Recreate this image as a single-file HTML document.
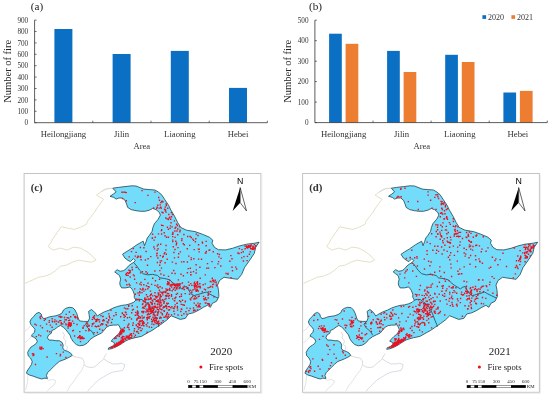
<!DOCTYPE html>
<html><head><meta charset="utf-8"><title>Fire statistics</title>
<style>
html,body{margin:0;padding:0;background:#fff}
body{width:550px;height:397px;overflow:hidden}
svg{display:block}
text{font-family:"Liberation Serif",serif;fill:#222}
.tk{font-size:7.2px;fill:#333}
.cat{font-size:8.7px;fill:#333}
.ax{font-size:8.6px;fill:#333}
.yl{font-size:10.5px;fill:#222}
.pl{font-size:11.2px;fill:#222}
.plb{font-size:10.8px;font-weight:bold;fill:#333}
.lg{font-size:8px;fill:#333}
.n{font-family:"Liberation Sans",sans-serif;font-size:8.8px;fill:#000}
.yr{font-size:11px;fill:#222}
.fs{font-size:8.7px;fill:#222}
.sb{font-size:4.9px;fill:#222}
</style></head><body>
<svg width="550" height="397" viewBox="0 0 550 397">
<rect width="550" height="397" fill="#fff"/>
<g id="chart-a">
<rect x="54.4" y="29.0" width="18" height="93.7" fill="#0b70c3"/>
<rect x="112.6" y="54.0" width="18" height="68.7" fill="#0b70c3"/>
<rect x="170.8" y="50.9" width="18" height="71.8" fill="#0b70c3"/>
<rect x="229.0" y="87.9" width="18" height="34.8" fill="#0b70c3"/>
<path d="M34.6,20.1V122.7H267.4" fill="none" stroke="#333" stroke-width="0.8"/>
<text x="28.2" y="125.3" text-anchor="end" class="tk">0</text>
<text x="28.2" y="113.9" text-anchor="end" class="tk">100</text>
<text x="28.2" y="102.5" text-anchor="end" class="tk">200</text>
<text x="28.2" y="91.1" text-anchor="end" class="tk">300</text>
<text x="28.2" y="79.7" text-anchor="end" class="tk">400</text>
<text x="28.2" y="68.3" text-anchor="end" class="tk">500</text>
<text x="28.2" y="56.9" text-anchor="end" class="tk">600</text>
<text x="28.2" y="45.5" text-anchor="end" class="tk">700</text>
<text x="28.2" y="34.1" text-anchor="end" class="tk">800</text>
<text x="28.2" y="22.7" text-anchor="end" class="tk">900</text>
<path d="M34.6,122.7h2M34.6,111.3h2M34.6,99.9h2M34.6,88.5h2M34.6,77.1h2M34.6,65.7h2M34.6,54.3h2M34.6,42.9h2M34.6,31.5h2M34.6,20.1h2M92.8,122.7v-2M151.0,122.7v-2M209.2,122.7v-2M267.4,122.7v-2" stroke="#333" stroke-width="0.7" fill="none"/>
<text x="63.4" y="136.7" text-anchor="middle" class="cat">Heilongjiang</text>
<text x="121.6" y="136.7" text-anchor="middle" class="cat">Jilin</text>
<text x="179.8" y="136.7" text-anchor="middle" class="cat">Liaoning</text>
<text x="238.0" y="136.7" text-anchor="middle" class="cat">Hebei</text>
<text x="141.8" y="149.4" text-anchor="middle" class="ax">Area</text>
<text transform="translate(11.3,71.3) rotate(-90)" text-anchor="middle" class="yl">Number of fire</text>
<text x="30.7" y="10" class="pl">(a)</text>
</g>
<g id="chart-b">
<rect x="329.1" y="33.7" width="12.7" height="88.9" fill="#0b70c3"/>
<rect x="345.6" y="43.8" width="12.7" height="78.8" fill="#ed7d31"/>
<rect x="387.1" y="50.9" width="12.7" height="71.7" fill="#0b70c3"/>
<rect x="403.6" y="72.0" width="12.7" height="50.6" fill="#ed7d31"/>
<rect x="445.2" y="54.8" width="12.7" height="67.8" fill="#0b70c3"/>
<rect x="461.8" y="62.0" width="12.7" height="60.6" fill="#ed7d31"/>
<rect x="503.4" y="92.5" width="12.7" height="30.1" fill="#0b70c3"/>
<rect x="519.9" y="90.9" width="12.7" height="31.7" fill="#ed7d31"/>
<path d="M314.9,20.2V122.6H547.3" fill="none" stroke="#333" stroke-width="0.8"/>
<text x="308.5" y="125.2" text-anchor="end" class="tk">0</text>
<text x="308.5" y="104.7" text-anchor="end" class="tk">100</text>
<text x="308.5" y="84.2" text-anchor="end" class="tk">200</text>
<text x="308.5" y="63.8" text-anchor="end" class="tk">300</text>
<text x="308.5" y="43.3" text-anchor="end" class="tk">400</text>
<text x="308.5" y="22.8" text-anchor="end" class="tk">500</text>
<path d="M314.9,122.6h2M314.9,102.1h2M314.9,81.6h2M314.9,61.2h2M314.9,40.7h2M314.9,20.2h2M373.0,122.6v-2M431.1,122.6v-2M489.2,122.6v-2M547.3,122.6v-2" stroke="#333" stroke-width="0.7" fill="none"/>
<text x="343.6" y="136.7" text-anchor="middle" class="cat">Heilongjiang</text>
<text x="401.6" y="136.7" text-anchor="middle" class="cat">Jilin</text>
<text x="459.8" y="136.7" text-anchor="middle" class="cat">Liaoning</text>
<text x="517.9" y="136.7" text-anchor="middle" class="cat">Hebei</text>
<text x="421.8" y="149.4" text-anchor="middle" class="ax">Area</text>
<text transform="translate(291.3,71.3) rotate(-90)" text-anchor="middle" class="yl">Number of fire</text>
<text x="309" y="10" class="pl">(b)</text>
<rect x="482.4" y="15.2" width="3.7" height="3.7" fill="#0b70c3"/>
<text x="488" y="19.8" class="lg">2020</text>
<rect x="511.4" y="15.2" width="3.7" height="3.7" fill="#ed7d31"/>
<text x="517" y="19.8" class="lg">2021</text>
</g>
<g id="map-c">
<rect x="24.1" y="173.5" width="236.8" height="218.8" fill="#fff" stroke="#c4c4c4" stroke-width="1"/>
<path d="M25.1,393.3H261.9V174.5" fill="none" stroke="#ececec" stroke-width="1"/>
<path d="M112.7,188.1 106.6,189.1 100.6,192.1 96.6,195.1 99.6,197.1 103.6,199.1 100.6,203.2 97.6,207.2 94.5,212.2 90.5,217.3 87.5,221.3 86.5,224.3 80.4,227.3 74.4,229.4 68.3,228.3 61.3,226.7 57.3,232.4 53.2,238.4 50.2,243.5 48.2,246.5 53.2,250.1 60.3,248.1 67.3,250.1 73.4,247.1 80.4,248.1 87.5,252.1 92.5,256.1 96.1,260.1 91.5,262.2 84.5,261.2 78.4,260.1 72.4,262.2 66.3,265.2 60.3,266.2 56.3,270.2 50.2,274.2 44.2,276.3 38.1,277.3 32.1,280.3 25.0,283.3" fill="none" stroke="#ddd8b8" stroke-width="0.8"/>
<path d="M100.6,192.1 104.0,189.5 108.0,188.3 112.6,188.5" fill="none" stroke="#d8d8d8" stroke-width="0.8"/>
<path d="M62.5,332.0 64.5,335.0 63.5,338.0 66.0,341.0 65.0,344.5 67.5,347.0 66.5,350.5" fill="none" stroke="#d4d4d4" stroke-width="0.8"/>
<path d="M72.4,355.9 77.5,357.4 81.8,358.1 84.0,361.0 84.0,364.6 86.9,366.8 91.3,367.5 94.9,366.8 97.8,363.9 101.5,361.0 103.6,358.8 105.1,355.9 106.5,353.7" fill="none" stroke="#d2d2d2" stroke-width="0.8"/>
<path d="M103.6,358.8 108.0,361.7 112.4,363.9 117.5,363.9 121.1,363.2 124.7,364.6 124.0,367.5 122.5,370.5 118.2,371.2 113.8,371.9 109.5,373.4 105.8,375.5 102.2,377.7 98.5,379.9 95.6,382.8 92.7,385.7 89.8,388.6 87.6,391.5" fill="none" stroke="#ccd3e0" stroke-width="0.8"/>
<path d="M24.7,331.3 28.5,328.5 30.4,325.7" fill="none" stroke="#dcdcdc" stroke-width="0.8"/>
<path d="M24.7,342.6 27.5,340.8 30.4,337.9 31.5,336.2" fill="none" stroke="#dcdcdc" stroke-width="0.8"/>
<path d="M28.0,375.0 27.5,382.3 25.7,389.8" fill="none" stroke="#dcdcdc" stroke-width="0.8"/>
<path d="M46.5,378.5 48.3,380.4 53.0,379.4 56.0,381.0 54.0,385.0 50.0,388.0 47.0,391.5" fill="none" stroke="#dcdcdc" stroke-width="0.8"/>
<path d="M84.0,364.6 82.0,370.0 78.0,375.0 74.0,381.0 70.0,386.0 67.0,391.5" fill="none" stroke="#dcdcdc" stroke-width="0.8"/>
<path d="M112.8,188.2 118.3,187.4 125.0,186.6 131.6,185.8 136.0,186.0 140.5,187.8 143.8,189.1 149.3,189.6 154.9,190.0 158.2,191.9 161.5,194.6 164.5,199.2 168.6,205.3 171.0,210.3 174.6,216.3 177.6,222.4 180.7,227.4 186.5,230.2 195.0,231.6 202.3,234.2 209.4,237.2 212.8,240.2 212.0,243.2 214.4,247.3 218.4,249.7 225.5,249.9 232.5,248.3 239.6,245.9 246.6,244.2 254.7,243.2 259.1,242.2 255.7,247.3 254.3,253.3 249.6,260.4 244.6,267.4 241.6,274.5 237.6,279.3 230.5,278.3 224.0,277.3 219.5,280.5 217.5,285.2 218.5,290.2 218.9,296.3 216.5,301.3 212.4,303.3 210.4,307.3 207.4,305.3 203.4,307.3 198.3,310.4 193.3,312.8 188.3,314.0 185.3,318.4 180.2,319.4 174.2,317.0 171.2,315.8 167.1,319.8 162.1,323.5 157.1,327.0 152.0,330.5 148.4,332.4 141.4,336.4 135.0,337.7 131.4,338.7 128.3,339.7 125.3,341.2 122.3,343.2 119.3,345.2 115.2,347.3 111.2,348.8 108.2,349.3 108.7,347.8 112.2,346.3 114.7,344.2 113.7,342.2 111.2,341.2 113.2,338.7 115.2,336.7 117.8,334.7 119.8,332.1 120.8,329.6 119.8,327.1 118.3,324.6 116.3,325.1 113.2,325.1 109.7,325.6 106.7,327.1 104.2,330.1 101.6,333.1 98.1,334.7 94.1,336.7 90.0,339.6 88.0,342.2 87.1,343.2 83.7,345.2 79.7,345.8 76.3,344.6 73.4,341.8 71.2,338.4 70.0,335.0 67.8,332.2 65.5,329.3 63.2,327.1 60.4,325.4 57.6,327.1 54.7,329.3 51.9,330.5 51.3,333.3 48.5,335.0 47.4,337.8 49.1,340.1 52.5,340.1 55.9,340.7 59.3,340.7 62.1,342.4 63.2,345.2 62.7,348.0 64.4,350.3 67.8,351.4 70.6,353.1 72.3,355.4 69.5,357.1 66.1,358.8 62.7,360.2 59.4,361.4 56.0,364.3 53.2,367.1 50.3,369.9 47.5,372.8 46.4,375.6 47.5,378.4 44.1,378.2 41.8,379.0 37.9,377.9 33.3,376.2 29.4,375.0 26.5,373.3 27.1,371.1 29.4,367.7 31.6,364.3 32.2,361.4 30.5,358.0 28.2,355.8 27.7,352.4 29.4,349.2 31.1,347.0 33.9,345.2 36.2,343.5 37.3,341.3 36.2,339.0 33.9,337.3 31.6,336.2 32.2,334.5 34.5,332.2 35.0,329.4 33.3,327.1 31.1,324.8 29.9,322.0 31.1,319.2 33.9,316.3 36.2,313.5 39.0,312.4 41.3,314.1 41.8,316.3 43.5,318.6 46.4,318.0 49.2,316.9 52.6,316.3 56.0,315.8 59.4,314.6 62.2,312.9 63.4,310.1 65.7,308.4 69.1,307.3 72.7,307.7 75.0,310.0 76.8,313.6 78.2,318.2 79.5,320.9 83.6,321.4 88.2,321.4 89.5,318.2 89.1,314.5 88.6,311.4 91.4,309.5 93.6,311.2 95.2,312.8 97.3,316.0 100.5,313.9 104.7,311.7 108.9,310.2 113.2,308.0 117.4,306.5 121.6,305.4 125.9,304.9 130.1,303.8 133.8,302.2 135.9,300.1 134.3,297.5 134.3,294.3 132.7,290.1 130.1,286.9 125.9,287.9 121.6,287.9 120.0,285.0 119.8,282.7 120.7,279.1 119.5,275.5 117.1,273.7 114.7,271.9 117.1,269.7 120.1,271.3 123.7,270.6 126.1,268.8 128.6,265.8 131.0,264.0 134.0,262.2 135.2,260.4 133.4,258.6 130.4,261.6 128.0,260.4 124.9,258.0 122.5,254.3 126.1,251.9 131.0,248.9 137.0,244.7 143.2,241.2 144.5,245.7 146.1,241.6 147.3,238.0 149.1,235.8 152.1,231.3 152.9,227.5 154.4,223.7 158.2,219.2 160.4,215.1 159.3,212.4 156.0,209.6 152.7,208.5 149.3,210.2 144.9,211.3 140.5,211.3 136.0,210.7 131.1,209.6 127.7,207.4 126.6,204.1 125.0,200.2 122.2,198.0 118.9,198.0 116.1,199.1 113.9,197.4 110.0,196.3 113.3,194.1 116.1,191.9Z" fill="#73dcfb" stroke="#1d4450" stroke-width="0.8" stroke-linejoin="round"/>
<path d="M134.0,262.8 137.0,266.4 139.4,270.0 143.1,273.7 147.9,274.9 152.7,274.3 157.6,275.5 160.0,277.9 164.8,278.5 169.8,279.9 172.9,282.9 175.9,285.3 178.9,287.1 181.9,288.9 184.3,287.1 186.8,286.5 188.6,290.1 191.0,293.8 194.0,295.6 198.3,294.4 202.5,293.2 206.1,292.0 209.1,293.8 212.8,295.6 216.4,297.4 218.2,298.0" fill="none" stroke="#1d4450" stroke-width="0.8"/>
<path d="M135.9,300.1 139.0,299.3 141.9,299.6 144.9,302.0 148.0,303.9 150.4,306.9 152.8,311.1 154.6,315.3 156.4,320.2 158.2,324.4 158.8,326.8" fill="none" stroke="#1d4450" stroke-width="0.8"/>
<path d="M88.2,321.4 85.5,324.1 87.3,327.3 90.0,330.0 92.3,331.8 94.1,335.2" fill="none" stroke="#1d4450" stroke-width="0.8"/>
<path d="M150.1,255.9h1.4v1.4h-1.4zM159.6,261.9h1.4v1.4h-1.4zM173.8,257.2h1.4v1.4h-1.4zM74.0,316.3h1.4v1.4h-1.4zM194.7,241.0h1.4v1.4h-1.4zM202.8,295.7h1.4v1.4h-1.4zM98.8,319.2h1.4v1.4h-1.4zM160.2,273.3h1.4v1.4h-1.4zM188.2,309.9h1.4v1.4h-1.4zM115.5,314.1h1.4v1.4h-1.4zM138.3,298.8h1.4v1.4h-1.4zM145.4,304.3h1.4v1.4h-1.4zM133.9,278.6h1.4v1.4h-1.4zM187.0,235.8h1.4v1.4h-1.4zM246.7,255.7h1.4v1.4h-1.4zM137.1,311.1h1.4v1.4h-1.4zM199.5,277.5h1.4v1.4h-1.4zM208.4,249.5h1.4v1.4h-1.4zM60.2,344.4h1.4v1.4h-1.4zM178.0,253.0h1.4v1.4h-1.4zM235.0,266.4h1.4v1.4h-1.4zM142.2,287.8h1.4v1.4h-1.4zM135.7,324.9h1.4v1.4h-1.4zM204.6,283.2h1.4v1.4h-1.4zM143.1,284.0h1.4v1.4h-1.4zM62.1,323.2h1.4v1.4h-1.4zM59.5,355.2h1.4v1.4h-1.4zM145.4,250.8h1.4v1.4h-1.4zM99.9,324.3h1.4v1.4h-1.4zM154.2,270.3h1.4v1.4h-1.4zM39.8,317.8h1.4v1.4h-1.4zM225.4,272.8h1.4v1.4h-1.4zM201.6,241.4h1.4v1.4h-1.4zM189.4,307.8h1.4v1.4h-1.4zM197.3,234.8h1.4v1.4h-1.4zM181.1,239.8h1.4v1.4h-1.4zM135.9,282.2h1.4v1.4h-1.4zM161.5,287.3h1.4v1.4h-1.4zM229.2,260.5h1.4v1.4h-1.4zM193.5,309.2h1.4v1.4h-1.4zM147.3,282.5h1.4v1.4h-1.4zM171.2,305.9h1.4v1.4h-1.4zM142.5,288.4h1.4v1.4h-1.4zM41.7,327.1h1.4v1.4h-1.4zM140.4,259.1h1.4v1.4h-1.4zM168.8,309.1h1.4v1.4h-1.4zM197.9,244.1h1.4v1.4h-1.4zM133.6,275.2h1.4v1.4h-1.4zM215.6,283.4h1.4v1.4h-1.4zM139.9,272.2h1.4v1.4h-1.4zM153.1,323.8h1.4v1.4h-1.4zM195.4,272.3h1.4v1.4h-1.4zM175.1,240.6h1.4v1.4h-1.4zM135.4,251.7h1.4v1.4h-1.4zM147.4,258.0h1.4v1.4h-1.4zM142.6,306.6h1.4v1.4h-1.4zM135.6,298.4h1.4v1.4h-1.4zM146.9,316.6h1.4v1.4h-1.4zM192.9,310.0h1.4v1.4h-1.4zM35.6,335.9h1.4v1.4h-1.4zM160.9,260.2h1.4v1.4h-1.4zM230.3,276.9h1.4v1.4h-1.4zM189.0,244.7h1.4v1.4h-1.4zM141.4,315.2h1.4v1.4h-1.4zM123.5,316.7h1.4v1.4h-1.4zM250.1,245.5h1.4v1.4h-1.4zM201.8,242.3h1.4v1.4h-1.4zM241.3,248.9h1.4v1.4h-1.4zM121.2,341.5h1.4v1.4h-1.4zM86.9,323.3h1.4v1.4h-1.4zM246.4,259.9h1.4v1.4h-1.4zM125.6,280.4h1.4v1.4h-1.4zM204.7,302.3h1.4v1.4h-1.4zM72.0,330.2h1.4v1.4h-1.4zM153.9,248.2h1.4v1.4h-1.4zM190.1,271.5h1.4v1.4h-1.4zM157.2,257.3h1.4v1.4h-1.4zM79.8,340.9h1.4v1.4h-1.4zM241.0,257.2h1.4v1.4h-1.4zM169.4,227.5h1.4v1.4h-1.4zM176.7,224.8h1.4v1.4h-1.4zM102.0,315.9h1.4v1.4h-1.4zM209.9,290.9h1.4v1.4h-1.4zM153.3,308.4h1.4v1.4h-1.4zM64.2,319.2h1.4v1.4h-1.4zM246.3,245.7h1.4v1.4h-1.4zM83.5,324.9h1.4v1.4h-1.4zM164.7,291.3h1.4v1.4h-1.4zM160.8,267.4h1.4v1.4h-1.4zM129.5,269.9h1.4v1.4h-1.4zM169.2,279.7h1.4v1.4h-1.4zM128.4,283.6h1.4v1.4h-1.4zM143.2,247.0h1.4v1.4h-1.4zM148.9,307.9h1.4v1.4h-1.4zM171.7,261.4h1.4v1.4h-1.4zM159.6,254.9h1.4v1.4h-1.4zM161.6,313.1h1.4v1.4h-1.4zM126.2,284.1h1.4v1.4h-1.4zM162.3,224.9h1.4v1.4h-1.4zM206.8,262.9h1.4v1.4h-1.4zM156.2,253.0h1.4v1.4h-1.4zM195.6,233.4h1.4v1.4h-1.4zM40.0,335.2h1.4v1.4h-1.4zM166.7,283.0h1.4v1.4h-1.4zM133.8,328.1h1.4v1.4h-1.4zM190.6,236.8h1.4v1.4h-1.4zM127.0,337.1h1.4v1.4h-1.4zM198.5,248.5h1.4v1.4h-1.4zM186.2,313.4h1.4v1.4h-1.4zM127.3,324.8h1.4v1.4h-1.4zM240.7,251.9h1.4v1.4h-1.4zM186.2,307.4h1.4v1.4h-1.4zM162.6,255.5h1.4v1.4h-1.4zM172.1,240.9h1.4v1.4h-1.4zM49.1,331.1h1.4v1.4h-1.4zM91.7,323.1h1.4v1.4h-1.4zM204.7,252.3h1.4v1.4h-1.4zM187.8,281.4h1.4v1.4h-1.4zM46.4,356.3h1.4v1.4h-1.4zM204.8,296.9h1.4v1.4h-1.4zM96.0,320.7h1.4v1.4h-1.4zM195.6,269.2h1.4v1.4h-1.4zM141.9,307.1h1.4v1.4h-1.4zM235.9,268.3h1.4v1.4h-1.4zM199.2,266.6h1.4v1.4h-1.4zM174.4,272.8h1.4v1.4h-1.4zM123.2,335.9h1.4v1.4h-1.4zM171.7,233.7h1.4v1.4h-1.4zM131.5,305.0h1.4v1.4h-1.4zM68.7,311.3h1.4v1.4h-1.4zM151.2,323.4h1.4v1.4h-1.4zM146.8,264.5h1.4v1.4h-1.4zM74.9,317.1h1.4v1.4h-1.4zM123.5,319.7h1.4v1.4h-1.4zM211.3,260.9h1.4v1.4h-1.4zM134.7,293.6h1.4v1.4h-1.4zM248.7,253.5h1.4v1.4h-1.4zM218.7,253.8h1.4v1.4h-1.4zM192.9,239.7h1.4v1.4h-1.4zM125.3,308.0h1.4v1.4h-1.4zM205.5,252.2h1.4v1.4h-1.4zM65.2,356.8h1.4v1.4h-1.4zM186.2,287.6h1.4v1.4h-1.4zM154.5,236.5h1.4v1.4h-1.4zM141.4,289.3h1.4v1.4h-1.4zM134.4,293.7h1.4v1.4h-1.4zM220.3,257.7h1.4v1.4h-1.4zM173.4,307.8h1.4v1.4h-1.4zM167.1,316.7h1.4v1.4h-1.4zM144.2,278.7h1.4v1.4h-1.4zM34.3,323.6h1.4v1.4h-1.4zM217.3,263.2h1.4v1.4h-1.4zM209.1,249.2h1.4v1.4h-1.4zM35.7,324.4h1.4v1.4h-1.4zM168.7,306.0h1.4v1.4h-1.4zM164.0,316.4h1.4v1.4h-1.4zM180.3,273.6h1.4v1.4h-1.4zM177.7,256.5h1.4v1.4h-1.4zM207.8,293.6h1.4v1.4h-1.4zM213.3,296.1h1.4v1.4h-1.4zM175.1,226.5h1.4v1.4h-1.4zM82.4,326.5h1.4v1.4h-1.4zM38.1,334.3h1.4v1.4h-1.4zM190.0,274.1h1.4v1.4h-1.4zM98.2,325.7h1.4v1.4h-1.4zM159.1,269.9h1.4v1.4h-1.4zM110.3,309.5h1.4v1.4h-1.4zM207.4,294.5h1.4v1.4h-1.4zM231.3,258.0h1.4v1.4h-1.4zM237.2,252.3h1.4v1.4h-1.4zM72.7,329.7h1.4v1.4h-1.4zM182.7,275.0h1.4v1.4h-1.4zM85.2,329.9h1.4v1.4h-1.4zM136.4,298.8h1.4v1.4h-1.4zM188.1,255.4h1.4v1.4h-1.4zM164.2,251.9h1.4v1.4h-1.4zM138.6,294.6h1.4v1.4h-1.4zM206.2,267.5h1.4v1.4h-1.4zM227.2,273.7h1.4v1.4h-1.4zM164.4,262.0h1.4v1.4h-1.4zM156.6,308.7h1.4v1.4h-1.4zM180.9,261.2h1.4v1.4h-1.4zM182.6,243.1h1.4v1.4h-1.4zM59.5,315.8h1.4v1.4h-1.4zM34.8,363.8h1.4v1.4h-1.4zM130.8,250.9h1.4v1.4h-1.4zM136.6,306.3h1.4v1.4h-1.4zM191.1,291.9h1.4v1.4h-1.4zM139.7,246.8h1.4v1.4h-1.4zM39.8,325.2h1.4v1.4h-1.4zM212.6,251.1h1.4v1.4h-1.4zM160.9,224.5h1.4v1.4h-1.4zM195.4,264.0h1.4v1.4h-1.4zM218.2,256.2h1.4v1.4h-1.4zM129.3,284.7h1.4v1.4h-1.4zM190.5,258.9h1.4v1.4h-1.4zM140.6,284.2h1.4v1.4h-1.4zM48.7,319.9h1.4v1.4h-1.4zM159.4,286.1h1.4v1.4h-1.4zM140.3,281.8h1.4v1.4h-1.4zM242.7,260.3h1.4v1.4h-1.4zM205.6,250.7h1.4v1.4h-1.4zM123.8,307.2h1.4v1.4h-1.4zM174.4,236.7h1.4v1.4h-1.4zM134.0,288.2h1.4v1.4h-1.4zM158.0,310.6h1.4v1.4h-1.4zM190.3,274.2h1.4v1.4h-1.4zM167.8,275.7h1.4v1.4h-1.4zM144.7,259.3h1.4v1.4h-1.4zM154.8,280.0h1.4v1.4h-1.4zM127.9,326.9h1.4v1.4h-1.4zM182.2,304.0h1.4v1.4h-1.4zM215.8,285.1h1.4v1.4h-1.4zM55.8,352.9h1.4v1.4h-1.4zM203.0,298.2h1.4v1.4h-1.4zM122.9,336.1h1.4v1.4h-1.4zM166.5,258.6h1.4v1.4h-1.4zM132.1,324.5h1.4v1.4h-1.4zM141.7,270.9h1.4v1.4h-1.4zM159.2,297.3h1.4v1.4h-1.4zM238.7,247.9h1.4v1.4h-1.4zM204.8,289.1h1.4v1.4h-1.4zM145.8,285.0h1.4v1.4h-1.4zM163.6,253.1h1.4v1.4h-1.4zM182.5,286.5h1.4v1.4h-1.4zM155.9,295.9h1.4v1.4h-1.4zM128.0,305.6h1.4v1.4h-1.4zM231.3,266.5h1.4v1.4h-1.4zM165.6,253.5h1.4v1.4h-1.4zM121.4,336.9h1.4v1.4h-1.4zM161.7,314.0h1.4v1.4h-1.4zM141.3,291.9h1.4v1.4h-1.4zM175.6,287.7h1.4v1.4h-1.4zM159.0,264.6h1.4v1.4h-1.4zM100.9,323.0h1.4v1.4h-1.4zM127.9,304.8h1.4v1.4h-1.4zM156.0,207.8h1.4v1.4h-1.4zM216.9,253.1h1.4v1.4h-1.4zM179.7,251.2h1.4v1.4h-1.4zM193.1,258.1h1.4v1.4h-1.4zM189.4,235.8h1.4v1.4h-1.4zM162.0,256.3h1.4v1.4h-1.4zM166.7,226.5h1.4v1.4h-1.4zM151.6,237.6h1.4v1.4h-1.4zM115.2,311.9h1.4v1.4h-1.4zM156.1,255.1h1.4v1.4h-1.4zM55.6,323.3h1.4v1.4h-1.4zM183.2,313.1h1.4v1.4h-1.4zM121.6,312.2h1.4v1.4h-1.4zM173.7,220.2h1.4v1.4h-1.4zM158.0,323.3h1.4v1.4h-1.4zM126.8,317.1h1.4v1.4h-1.4zM205.5,240.7h1.4v1.4h-1.4zM186.7,261.3h1.4v1.4h-1.4zM171.3,272.6h1.4v1.4h-1.4zM187.5,267.9h1.4v1.4h-1.4zM151.9,233.6h1.4v1.4h-1.4zM58.0,321.4h1.4v1.4h-1.4zM145.3,271.1h1.4v1.4h-1.4zM156.4,249.7h1.4v1.4h-1.4zM65.5,313.7h1.4v1.4h-1.4zM132.8,332.8h1.4v1.4h-1.4zM71.9,320.4h1.4v1.4h-1.4zM134.6,255.4h1.4v1.4h-1.4zM45.9,323.4h1.4v1.4h-1.4zM156.5,206.6h1.4v1.4h-1.4zM177.0,234.0h1.4v1.4h-1.4zM197.7,248.4h1.4v1.4h-1.4zM157.2,306.3h1.4v1.4h-1.4zM70.5,324.5h1.4v1.4h-1.4zM207.9,267.4h1.4v1.4h-1.4zM179.0,284.5h1.4v1.4h-1.4zM156.4,252.5h1.4v1.4h-1.4zM40.3,315.6h1.4v1.4h-1.4zM175.8,243.2h1.4v1.4h-1.4zM70.0,316.0h1.4v1.4h-1.4zM156.7,261.8h1.4v1.4h-1.4zM152.9,207.3h1.4v1.4h-1.4zM139.3,292.1h1.4v1.4h-1.4zM158.5,207.4h1.4v1.4h-1.4zM162.2,201.1h1.4v1.4h-1.4zM217.9,260.9h1.4v1.4h-1.4zM189.6,267.5h1.4v1.4h-1.4zM198.4,251.2h1.4v1.4h-1.4zM165.7,204.8h1.4v1.4h-1.4zM160.5,207.5h1.4v1.4h-1.4zM93.4,317.6h1.4v1.4h-1.4zM59.8,353.8h1.4v1.4h-1.4zM183.2,261.1h1.4v1.4h-1.4zM159.5,260.2h1.4v1.4h-1.4zM181.2,238.0h1.4v1.4h-1.4zM157.7,287.1h1.4v1.4h-1.4zM172.5,307.5h1.4v1.4h-1.4zM183.6,244.1h1.4v1.4h-1.4zM197.0,283.4h1.4v1.4h-1.4zM227.3,272.7h1.4v1.4h-1.4zM157.6,243.8h1.4v1.4h-1.4zM97.6,325.2h1.4v1.4h-1.4zM242.6,251.1h1.4v1.4h-1.4zM161.0,201.1h1.4v1.4h-1.4zM175.9,223.5h1.4v1.4h-1.4zM101.8,329.5h1.4v1.4h-1.4zM120.0,316.0h1.4v1.4h-1.4zM164.3,235.0h1.4v1.4h-1.4zM193.5,248.9h1.4v1.4h-1.4zM214.2,266.9h1.4v1.4h-1.4zM162.2,292.2h1.4v1.4h-1.4zM165.2,249.2h1.4v1.4h-1.4zM85.9,322.3h1.4v1.4h-1.4zM205.4,245.1h1.4v1.4h-1.4zM79.1,330.9h1.4v1.4h-1.4zM243.2,255.9h1.4v1.4h-1.4zM67.4,327.3h1.4v1.4h-1.4zM173.2,251.8h1.4v1.4h-1.4zM132.6,247.9h1.4v1.4h-1.4zM51.4,326.5h1.4v1.4h-1.4zM175.3,262.8h1.4v1.4h-1.4zM62.6,351.4h1.4v1.4h-1.4zM88.1,330.0h1.4v1.4h-1.4zM63.8,316.8h1.4v1.4h-1.4zM230.2,254.9h1.4v1.4h-1.4zM80.6,337.8h1.4v1.4h-1.4zM196.7,281.8h1.4v1.4h-1.4zM238.3,252.8h1.4v1.4h-1.4zM195.1,238.1h1.4v1.4h-1.4zM185.2,311.1h1.4v1.4h-1.4zM153.0,318.2h1.4v1.4h-1.4zM186.6,248.0h1.4v1.4h-1.4zM153.1,246.3h1.4v1.4h-1.4zM197.9,258.4h1.4v1.4h-1.4zM167.8,315.7h1.4v1.4h-1.4zM171.5,290.0h1.4v1.4h-1.4zM167.7,236.6h1.4v1.4h-1.4zM135.6,324.2h1.4v1.4h-1.4zM148.4,286.3h1.4v1.4h-1.4zM132.6,308.7h1.4v1.4h-1.4zM146.7,272.6h1.4v1.4h-1.4zM186.7,272.0h1.4v1.4h-1.4zM61.1,316.3h1.4v1.4h-1.4zM158.0,196.8h1.4v1.4h-1.4zM192.1,238.4h1.4v1.4h-1.4zM124.1,337.8h1.4v1.4h-1.4zM128.5,256.2h1.4v1.4h-1.4zM190.6,257.2h1.4v1.4h-1.4zM200.8,258.5h1.4v1.4h-1.4zM163.2,274.5h1.4v1.4h-1.4zM220.1,265.3h1.4v1.4h-1.4zM231.8,270.1h1.4v1.4h-1.4zM46.8,330.3h1.4v1.4h-1.4zM39.2,316.4h1.4v1.4h-1.4zM164.6,210.2h1.4v1.4h-1.4zM158.8,199.6h1.4v1.4h-1.4zM147.2,194.7h1.4v1.4h-1.4zM170.8,216.1h1.4v1.4h-1.4zM164.9,209.3h1.4v1.4h-1.4zM167.1,207.6h1.4v1.4h-1.4zM170.0,218.5h1.4v1.4h-1.4zM176.3,230.3h1.4v1.4h-1.4zM160.0,206.5h1.4v1.4h-1.4zM165.4,211.4h1.4v1.4h-1.4zM174.2,230.3h1.4v1.4h-1.4zM169.0,216.5h1.4v1.4h-1.4zM170.7,211.9h1.4v1.4h-1.4zM167.7,218.8h1.4v1.4h-1.4zM162.3,212.1h1.4v1.4h-1.4zM169.7,225.2h1.4v1.4h-1.4zM179.2,231.0h1.4v1.4h-1.4zM163.9,208.5h1.4v1.4h-1.4zM170.4,222.0h1.4v1.4h-1.4zM166.4,218.2h1.4v1.4h-1.4zM168.4,217.4h1.4v1.4h-1.4zM161.4,200.5h1.4v1.4h-1.4zM154.3,191.4h1.4v1.4h-1.4zM159.5,204.2h1.4v1.4h-1.4zM165.5,203.3h1.4v1.4h-1.4zM164.6,206.4h1.4v1.4h-1.4zM165.1,217.3h1.4v1.4h-1.4zM171.8,213.8h1.4v1.4h-1.4zM179.4,229.6h1.4v1.4h-1.4zM157.1,204.5h1.4v1.4h-1.4zM161.4,211.6h1.4v1.4h-1.4zM160.1,201.9h1.4v1.4h-1.4zM177.0,228.3h1.4v1.4h-1.4zM178.9,226.2h1.4v1.4h-1.4zM168.1,213.8h1.4v1.4h-1.4zM175.9,242.2h1.4v1.4h-1.4zM172.2,231.8h1.4v1.4h-1.4zM161.0,229.1h1.4v1.4h-1.4zM174.4,227.5h1.4v1.4h-1.4zM165.8,236.6h1.4v1.4h-1.4zM163.5,232.1h1.4v1.4h-1.4zM167.7,228.6h1.4v1.4h-1.4zM165.4,244.8h1.4v1.4h-1.4zM160.0,243.6h1.4v1.4h-1.4zM174.3,248.8h1.4v1.4h-1.4zM157.4,248.0h1.4v1.4h-1.4zM172.6,246.0h1.4v1.4h-1.4zM172.2,233.3h1.4v1.4h-1.4zM172.0,235.9h1.4v1.4h-1.4zM160.7,229.9h1.4v1.4h-1.4zM160.9,233.3h1.4v1.4h-1.4zM151.7,237.2h1.4v1.4h-1.4zM153.4,239.4h1.4v1.4h-1.4zM175.6,244.2h1.4v1.4h-1.4zM177.3,246.9h1.4v1.4h-1.4zM183.2,233.8h1.4v1.4h-1.4zM157.8,233.2h1.4v1.4h-1.4zM156.6,245.2h1.4v1.4h-1.4zM172.0,239.4h1.4v1.4h-1.4zM171.4,226.2h1.4v1.4h-1.4zM247.2,246.2h1.4v1.4h-1.4zM250.6,248.1h1.4v1.4h-1.4zM255.1,245.1h1.4v1.4h-1.4zM249.5,251.2h1.4v1.4h-1.4zM254.0,247.9h1.4v1.4h-1.4zM252.4,246.7h1.4v1.4h-1.4zM254.4,246.4h1.4v1.4h-1.4zM252.1,247.6h1.4v1.4h-1.4zM245.9,246.7h1.4v1.4h-1.4zM248.9,245.3h1.4v1.4h-1.4zM249.8,245.1h1.4v1.4h-1.4zM253.2,248.3h1.4v1.4h-1.4zM252.7,248.6h1.4v1.4h-1.4zM250.4,244.2h1.4v1.4h-1.4zM247.8,246.6h1.4v1.4h-1.4zM247.0,246.3h1.4v1.4h-1.4zM247.6,245.6h1.4v1.4h-1.4zM245.7,245.3h1.4v1.4h-1.4zM244.4,248.1h1.4v1.4h-1.4zM249.9,247.8h1.4v1.4h-1.4zM252.2,246.4h1.4v1.4h-1.4zM253.7,243.9h1.4v1.4h-1.4zM246.5,246.4h1.4v1.4h-1.4zM252.0,248.6h1.4v1.4h-1.4zM246.9,246.1h1.4v1.4h-1.4zM246.4,246.5h1.4v1.4h-1.4zM244.3,245.4h1.4v1.4h-1.4zM246.9,247.3h1.4v1.4h-1.4zM246.5,247.1h1.4v1.4h-1.4zM250.7,247.9h1.4v1.4h-1.4zM252.3,245.4h1.4v1.4h-1.4zM249.4,246.5h1.4v1.4h-1.4zM253.2,246.4h1.4v1.4h-1.4zM250.5,244.3h1.4v1.4h-1.4zM247.9,245.1h1.4v1.4h-1.4zM249.0,245.5h1.4v1.4h-1.4zM188.8,293.5h1.4v1.4h-1.4zM175.6,293.7h1.4v1.4h-1.4zM180.0,301.0h1.4v1.4h-1.4zM204.4,298.3h1.4v1.4h-1.4zM190.0,299.2h1.4v1.4h-1.4zM195.2,285.5h1.4v1.4h-1.4zM198.6,295.4h1.4v1.4h-1.4zM158.8,278.5h1.4v1.4h-1.4zM207.5,297.3h1.4v1.4h-1.4zM181.7,282.3h1.4v1.4h-1.4zM174.2,297.4h1.4v1.4h-1.4zM158.7,289.6h1.4v1.4h-1.4zM176.8,292.8h1.4v1.4h-1.4zM197.7,295.8h1.4v1.4h-1.4zM188.5,284.5h1.4v1.4h-1.4zM196.0,297.3h1.4v1.4h-1.4zM194.7,295.9h1.4v1.4h-1.4zM190.9,297.0h1.4v1.4h-1.4zM194.3,287.6h1.4v1.4h-1.4zM165.3,288.2h1.4v1.4h-1.4zM209.4,291.2h1.4v1.4h-1.4zM183.7,288.8h1.4v1.4h-1.4zM171.7,282.2h1.4v1.4h-1.4zM191.1,290.4h1.4v1.4h-1.4zM187.5,287.4h1.4v1.4h-1.4zM179.9,283.2h1.4v1.4h-1.4zM205.2,302.3h1.4v1.4h-1.4zM190.1,282.9h1.4v1.4h-1.4zM196.3,287.1h1.4v1.4h-1.4zM165.0,291.8h1.4v1.4h-1.4zM197.0,283.6h1.4v1.4h-1.4zM176.6,302.4h1.4v1.4h-1.4zM157.1,284.2h1.4v1.4h-1.4zM192.4,289.1h1.4v1.4h-1.4zM195.1,290.2h1.4v1.4h-1.4zM193.3,298.3h1.4v1.4h-1.4zM189.6,298.3h1.4v1.4h-1.4zM207.6,291.3h1.4v1.4h-1.4zM186.8,286.9h1.4v1.4h-1.4zM196.0,284.7h1.4v1.4h-1.4zM177.7,279.2h1.4v1.4h-1.4zM196.5,289.0h1.4v1.4h-1.4zM205.8,299.0h1.4v1.4h-1.4zM196.5,289.6h1.4v1.4h-1.4zM168.5,283.2h1.4v1.4h-1.4zM175.4,284.2h1.4v1.4h-1.4zM174.8,284.1h1.4v1.4h-1.4zM178.5,287.9h1.4v1.4h-1.4zM171.5,284.3h1.4v1.4h-1.4zM172.7,283.9h1.4v1.4h-1.4zM175.3,286.2h1.4v1.4h-1.4zM178.3,282.9h1.4v1.4h-1.4zM174.7,285.0h1.4v1.4h-1.4zM173.7,287.0h1.4v1.4h-1.4zM171.1,283.9h1.4v1.4h-1.4zM176.1,283.6h1.4v1.4h-1.4zM175.1,283.7h1.4v1.4h-1.4zM176.5,283.5h1.4v1.4h-1.4zM172.6,288.6h1.4v1.4h-1.4zM173.6,284.8h1.4v1.4h-1.4zM178.9,283.7h1.4v1.4h-1.4zM177.9,283.9h1.4v1.4h-1.4zM168.3,281.7h1.4v1.4h-1.4zM167.0,281.0h1.4v1.4h-1.4zM176.1,288.3h1.4v1.4h-1.4zM176.4,286.9h1.4v1.4h-1.4zM177.0,284.9h1.4v1.4h-1.4zM178.5,284.7h1.4v1.4h-1.4zM176.6,283.3h1.4v1.4h-1.4zM174.3,284.7h1.4v1.4h-1.4zM191.2,284.7h1.4v1.4h-1.4zM193.9,286.1h1.4v1.4h-1.4zM202.5,284.0h1.4v1.4h-1.4zM196.2,285.4h1.4v1.4h-1.4zM194.5,284.4h1.4v1.4h-1.4zM199.5,285.7h1.4v1.4h-1.4zM194.6,283.3h1.4v1.4h-1.4zM194.2,288.4h1.4v1.4h-1.4zM193.9,281.4h1.4v1.4h-1.4zM193.9,286.3h1.4v1.4h-1.4zM197.8,286.2h1.4v1.4h-1.4zM199.1,283.0h1.4v1.4h-1.4zM193.7,285.3h1.4v1.4h-1.4zM196.8,281.0h1.4v1.4h-1.4zM196.1,282.2h1.4v1.4h-1.4zM199.4,286.8h1.4v1.4h-1.4zM201.6,291.0h1.4v1.4h-1.4zM198.1,285.4h1.4v1.4h-1.4zM193.4,284.6h1.4v1.4h-1.4zM199.7,287.0h1.4v1.4h-1.4zM196.7,282.7h1.4v1.4h-1.4zM195.8,290.5h1.4v1.4h-1.4zM195.8,289.3h1.4v1.4h-1.4zM189.5,289.6h1.4v1.4h-1.4zM193.6,282.7h1.4v1.4h-1.4zM195.3,304.6h1.4v1.4h-1.4zM199.4,303.1h1.4v1.4h-1.4zM195.7,304.6h1.4v1.4h-1.4zM198.9,306.0h1.4v1.4h-1.4zM197.2,302.4h1.4v1.4h-1.4zM196.5,306.2h1.4v1.4h-1.4zM192.8,307.3h1.4v1.4h-1.4zM199.5,306.2h1.4v1.4h-1.4zM198.2,305.8h1.4v1.4h-1.4zM198.5,304.8h1.4v1.4h-1.4zM194.4,309.7h1.4v1.4h-1.4zM197.9,304.4h1.4v1.4h-1.4zM196.8,309.2h1.4v1.4h-1.4zM198.0,306.1h1.4v1.4h-1.4zM208.3,303.6h1.4v1.4h-1.4zM208.2,303.1h1.4v1.4h-1.4zM207.7,303.4h1.4v1.4h-1.4zM207.0,302.9h1.4v1.4h-1.4zM208.5,303.6h1.4v1.4h-1.4zM209.0,304.5h1.4v1.4h-1.4zM211.1,281.2h1.4v1.4h-1.4zM214.3,281.4h1.4v1.4h-1.4zM212.8,283.4h1.4v1.4h-1.4zM209.6,280.8h1.4v1.4h-1.4zM211.9,279.5h1.4v1.4h-1.4zM213.1,280.9h1.4v1.4h-1.4zM211.8,286.3h1.4v1.4h-1.4zM215.6,281.4h1.4v1.4h-1.4zM211.6,277.5h1.4v1.4h-1.4zM209.1,286.7h1.4v1.4h-1.4zM212.7,279.6h1.4v1.4h-1.4zM210.0,285.7h1.4v1.4h-1.4zM212.0,283.9h1.4v1.4h-1.4zM214.5,279.6h1.4v1.4h-1.4zM165.4,290.3h1.4v1.4h-1.4zM169.2,289.7h1.4v1.4h-1.4zM167.9,292.9h1.4v1.4h-1.4zM166.3,294.4h1.4v1.4h-1.4zM170.1,285.3h1.4v1.4h-1.4zM166.5,288.9h1.4v1.4h-1.4zM166.9,289.5h1.4v1.4h-1.4zM170.3,284.0h1.4v1.4h-1.4zM168.9,288.9h1.4v1.4h-1.4zM166.7,283.9h1.4v1.4h-1.4zM164.0,291.3h1.4v1.4h-1.4zM171.0,286.4h1.4v1.4h-1.4zM169.5,284.8h1.4v1.4h-1.4zM169.1,289.5h1.4v1.4h-1.4zM167.4,283.8h1.4v1.4h-1.4zM167.1,288.7h1.4v1.4h-1.4zM170.8,294.1h1.4v1.4h-1.4zM169.0,287.7h1.4v1.4h-1.4zM168.6,294.8h1.4v1.4h-1.4zM170.8,295.5h1.4v1.4h-1.4zM139.9,255.6h1.4v1.4h-1.4zM136.6,256.8h1.4v1.4h-1.4zM139.9,256.5h1.4v1.4h-1.4zM137.8,255.9h1.4v1.4h-1.4zM137.3,255.5h1.4v1.4h-1.4zM137.7,256.1h1.4v1.4h-1.4zM125.2,273.9h1.4v1.4h-1.4zM129.1,272.1h1.4v1.4h-1.4zM129.5,271.7h1.4v1.4h-1.4zM129.5,276.3h1.4v1.4h-1.4zM127.4,274.7h1.4v1.4h-1.4zM126.9,272.1h1.4v1.4h-1.4zM129.4,271.2h1.4v1.4h-1.4zM131.7,269.0h1.4v1.4h-1.4zM128.1,272.7h1.4v1.4h-1.4zM128.9,272.2h1.4v1.4h-1.4zM125.7,272.7h1.4v1.4h-1.4zM132.7,274.2h1.4v1.4h-1.4zM128.2,269.5h1.4v1.4h-1.4zM125.9,274.6h1.4v1.4h-1.4zM127.0,271.9h1.4v1.4h-1.4zM135.5,266.7h1.4v1.4h-1.4zM131.4,266.8h1.4v1.4h-1.4zM124.6,279.2h1.4v1.4h-1.4zM159.0,317.5h1.4v1.4h-1.4zM155.6,319.9h1.4v1.4h-1.4zM149.4,295.0h1.4v1.4h-1.4zM143.0,310.7h1.4v1.4h-1.4zM152.1,320.3h1.4v1.4h-1.4zM148.5,316.2h1.4v1.4h-1.4zM153.5,298.5h1.4v1.4h-1.4zM145.3,311.3h1.4v1.4h-1.4zM151.3,303.7h1.4v1.4h-1.4zM146.9,322.3h1.4v1.4h-1.4zM150.9,283.7h1.4v1.4h-1.4zM157.3,286.7h1.4v1.4h-1.4zM165.5,306.1h1.4v1.4h-1.4zM151.6,306.7h1.4v1.4h-1.4zM151.3,311.9h1.4v1.4h-1.4zM163.5,301.1h1.4v1.4h-1.4zM148.1,303.5h1.4v1.4h-1.4zM146.9,314.0h1.4v1.4h-1.4zM139.1,283.4h1.4v1.4h-1.4zM149.7,312.8h1.4v1.4h-1.4zM152.8,319.4h1.4v1.4h-1.4zM166.7,303.3h1.4v1.4h-1.4zM147.1,310.5h1.4v1.4h-1.4zM154.3,314.8h1.4v1.4h-1.4zM155.9,300.0h1.4v1.4h-1.4zM170.8,314.2h1.4v1.4h-1.4zM156.9,300.5h1.4v1.4h-1.4zM154.5,306.3h1.4v1.4h-1.4zM157.9,320.5h1.4v1.4h-1.4zM145.4,308.4h1.4v1.4h-1.4zM150.7,312.3h1.4v1.4h-1.4zM165.0,305.1h1.4v1.4h-1.4zM176.7,307.3h1.4v1.4h-1.4zM136.7,312.9h1.4v1.4h-1.4zM136.3,318.9h1.4v1.4h-1.4zM155.0,306.6h1.4v1.4h-1.4zM157.2,312.5h1.4v1.4h-1.4zM145.3,303.5h1.4v1.4h-1.4zM167.4,315.7h1.4v1.4h-1.4zM156.3,300.4h1.4v1.4h-1.4zM148.3,308.6h1.4v1.4h-1.4zM142.6,321.0h1.4v1.4h-1.4zM160.8,305.0h1.4v1.4h-1.4zM148.9,304.3h1.4v1.4h-1.4zM146.5,331.5h1.4v1.4h-1.4zM147.5,312.5h1.4v1.4h-1.4zM148.2,306.6h1.4v1.4h-1.4zM151.6,321.2h1.4v1.4h-1.4zM142.6,300.4h1.4v1.4h-1.4zM151.5,299.6h1.4v1.4h-1.4zM162.3,320.1h1.4v1.4h-1.4zM159.6,316.4h1.4v1.4h-1.4zM138.5,316.0h1.4v1.4h-1.4zM151.7,302.9h1.4v1.4h-1.4zM146.6,296.2h1.4v1.4h-1.4zM146.3,310.0h1.4v1.4h-1.4zM163.1,305.9h1.4v1.4h-1.4zM156.5,314.6h1.4v1.4h-1.4zM157.7,311.4h1.4v1.4h-1.4zM136.5,317.8h1.4v1.4h-1.4zM160.1,299.5h1.4v1.4h-1.4zM151.9,307.6h1.4v1.4h-1.4zM152.8,308.0h1.4v1.4h-1.4zM156.9,314.1h1.4v1.4h-1.4zM157.6,308.9h1.4v1.4h-1.4zM147.1,288.1h1.4v1.4h-1.4zM143.2,290.4h1.4v1.4h-1.4zM149.4,315.7h1.4v1.4h-1.4zM165.3,316.0h1.4v1.4h-1.4zM151.5,303.9h1.4v1.4h-1.4zM154.6,305.4h1.4v1.4h-1.4zM147.3,308.9h1.4v1.4h-1.4zM160.8,291.7h1.4v1.4h-1.4zM151.9,310.1h1.4v1.4h-1.4zM160.5,302.2h1.4v1.4h-1.4zM158.5,301.2h1.4v1.4h-1.4zM145.2,299.1h1.4v1.4h-1.4zM153.4,306.9h1.4v1.4h-1.4zM160.5,317.1h1.4v1.4h-1.4zM146.6,319.1h1.4v1.4h-1.4zM165.4,314.9h1.4v1.4h-1.4zM166.7,317.4h1.4v1.4h-1.4zM157.6,301.4h1.4v1.4h-1.4zM157.8,322.4h1.4v1.4h-1.4zM151.1,320.8h1.4v1.4h-1.4zM144.2,305.6h1.4v1.4h-1.4zM160.7,322.1h1.4v1.4h-1.4zM165.3,297.8h1.4v1.4h-1.4zM156.5,317.6h1.4v1.4h-1.4zM142.4,324.5h1.4v1.4h-1.4zM155.6,322.8h1.4v1.4h-1.4zM166.6,312.0h1.4v1.4h-1.4zM154.7,311.4h1.4v1.4h-1.4zM158.8,322.7h1.4v1.4h-1.4zM144.6,301.2h1.4v1.4h-1.4zM142.0,310.7h1.4v1.4h-1.4zM144.1,298.7h1.4v1.4h-1.4zM165.6,305.7h1.4v1.4h-1.4zM162.3,291.4h1.4v1.4h-1.4zM162.0,299.1h1.4v1.4h-1.4zM163.4,316.5h1.4v1.4h-1.4zM158.9,303.5h1.4v1.4h-1.4zM156.4,307.1h1.4v1.4h-1.4zM161.1,309.0h1.4v1.4h-1.4zM151.4,302.7h1.4v1.4h-1.4zM146.5,318.1h1.4v1.4h-1.4zM148.5,313.7h1.4v1.4h-1.4zM125.8,313.7h1.4v1.4h-1.4zM144.8,288.8h1.4v1.4h-1.4zM157.5,292.3h1.4v1.4h-1.4zM166.0,313.6h1.4v1.4h-1.4zM148.4,317.3h1.4v1.4h-1.4zM149.5,310.9h1.4v1.4h-1.4zM159.2,308.0h1.4v1.4h-1.4zM157.7,294.3h1.4v1.4h-1.4zM166.1,302.5h1.4v1.4h-1.4zM147.5,308.3h1.4v1.4h-1.4zM156.7,303.8h1.4v1.4h-1.4zM147.3,302.1h1.4v1.4h-1.4zM154.3,321.9h1.4v1.4h-1.4zM147.5,298.9h1.4v1.4h-1.4zM160.5,308.7h1.4v1.4h-1.4zM164.7,305.7h1.4v1.4h-1.4zM155.2,310.4h1.4v1.4h-1.4zM150.9,318.5h1.4v1.4h-1.4zM152.7,309.7h1.4v1.4h-1.4zM146.3,325.4h1.4v1.4h-1.4zM156.8,311.4h1.4v1.4h-1.4zM137.5,312.6h1.4v1.4h-1.4zM150.0,294.0h1.4v1.4h-1.4zM157.9,292.6h1.4v1.4h-1.4zM159.6,305.4h1.4v1.4h-1.4zM152.0,295.2h1.4v1.4h-1.4zM137.3,292.3h1.4v1.4h-1.4zM139.0,291.1h1.4v1.4h-1.4zM150.7,293.3h1.4v1.4h-1.4zM167.7,302.7h1.4v1.4h-1.4zM181.8,299.5h1.4v1.4h-1.4zM167.4,305.9h1.4v1.4h-1.4zM150.4,294.1h1.4v1.4h-1.4zM159.7,294.0h1.4v1.4h-1.4zM176.7,305.8h1.4v1.4h-1.4zM130.8,318.3h1.4v1.4h-1.4zM124.6,315.6h1.4v1.4h-1.4zM138.4,326.9h1.4v1.4h-1.4zM203.7,299.2h1.4v1.4h-1.4zM167.6,282.2h1.4v1.4h-1.4zM159.0,304.2h1.4v1.4h-1.4zM181.0,314.7h1.4v1.4h-1.4zM166.0,307.8h1.4v1.4h-1.4zM136.0,319.3h1.4v1.4h-1.4zM143.4,301.1h1.4v1.4h-1.4zM163.2,302.5h1.4v1.4h-1.4zM165.8,295.6h1.4v1.4h-1.4zM180.7,295.6h1.4v1.4h-1.4zM155.9,295.8h1.4v1.4h-1.4zM161.9,292.1h1.4v1.4h-1.4zM142.2,317.3h1.4v1.4h-1.4zM174.1,306.1h1.4v1.4h-1.4zM163.0,291.3h1.4v1.4h-1.4zM132.5,322.3h1.4v1.4h-1.4zM163.3,310.1h1.4v1.4h-1.4zM166.0,313.9h1.4v1.4h-1.4zM139.3,320.0h1.4v1.4h-1.4zM113.1,315.1h1.4v1.4h-1.4zM193.5,302.4h1.4v1.4h-1.4zM166.8,292.7h1.4v1.4h-1.4zM184.7,300.4h1.4v1.4h-1.4zM180.6,308.3h1.4v1.4h-1.4zM155.8,297.2h1.4v1.4h-1.4zM181.0,308.6h1.4v1.4h-1.4zM168.6,309.1h1.4v1.4h-1.4zM148.7,306.6h1.4v1.4h-1.4zM180.6,303.7h1.4v1.4h-1.4zM105.8,317.7h1.4v1.4h-1.4zM150.4,302.1h1.4v1.4h-1.4zM203.7,288.4h1.4v1.4h-1.4zM141.8,303.9h1.4v1.4h-1.4zM162.5,307.1h1.4v1.4h-1.4zM123.0,313.9h1.4v1.4h-1.4zM183.6,304.6h1.4v1.4h-1.4zM154.1,311.4h1.4v1.4h-1.4zM145.8,294.0h1.4v1.4h-1.4zM144.7,305.8h1.4v1.4h-1.4zM193.8,297.5h1.4v1.4h-1.4zM154.0,303.0h1.4v1.4h-1.4zM121.8,312.9h1.4v1.4h-1.4zM142.1,303.1h1.4v1.4h-1.4zM127.1,308.1h1.4v1.4h-1.4zM150.6,297.8h1.4v1.4h-1.4zM173.0,269.8h1.4v1.4h-1.4zM152.0,277.6h1.4v1.4h-1.4zM128.5,328.8h1.4v1.4h-1.4zM167.8,309.4h1.4v1.4h-1.4zM174.5,304.2h1.4v1.4h-1.4zM184.6,301.0h1.4v1.4h-1.4zM170.2,307.0h1.4v1.4h-1.4zM156.1,285.4h1.4v1.4h-1.4zM180.7,293.6h1.4v1.4h-1.4zM157.4,300.7h1.4v1.4h-1.4zM175.1,296.5h1.4v1.4h-1.4zM131.7,309.4h1.4v1.4h-1.4zM184.5,292.9h1.4v1.4h-1.4zM192.0,295.6h1.4v1.4h-1.4zM143.4,307.6h1.4v1.4h-1.4zM179.0,296.0h1.4v1.4h-1.4zM142.4,312.0h1.4v1.4h-1.4zM156.4,300.3h1.4v1.4h-1.4zM150.4,309.5h1.4v1.4h-1.4zM159.5,302.1h1.4v1.4h-1.4zM144.0,298.6h1.4v1.4h-1.4zM131.0,312.1h1.4v1.4h-1.4zM155.0,296.1h1.4v1.4h-1.4zM161.2,308.7h1.4v1.4h-1.4zM172.0,298.2h1.4v1.4h-1.4zM180.1,310.8h1.4v1.4h-1.4zM176.1,302.7h1.4v1.4h-1.4zM177.4,314.3h1.4v1.4h-1.4zM136.8,310.3h1.4v1.4h-1.4zM183.7,285.4h1.4v1.4h-1.4zM192.8,270.9h1.4v1.4h-1.4zM153.3,305.7h1.4v1.4h-1.4zM168.3,297.6h1.4v1.4h-1.4zM178.9,300.0h1.4v1.4h-1.4zM174.5,289.6h1.4v1.4h-1.4zM168.3,282.7h1.4v1.4h-1.4zM147.5,303.9h1.4v1.4h-1.4zM204.6,274.2h1.4v1.4h-1.4zM163.5,306.5h1.4v1.4h-1.4zM182.1,288.0h1.4v1.4h-1.4zM160.3,311.8h1.4v1.4h-1.4zM142.1,317.3h1.4v1.4h-1.4zM154.4,298.5h1.4v1.4h-1.4zM154.3,284.7h1.4v1.4h-1.4zM125.2,311.8h1.4v1.4h-1.4zM160.0,300.4h1.4v1.4h-1.4zM124.7,311.5h1.4v1.4h-1.4zM147.5,285.9h1.4v1.4h-1.4zM161.5,292.5h1.4v1.4h-1.4zM168.0,313.8h1.4v1.4h-1.4zM207.4,287.0h1.4v1.4h-1.4zM139.7,320.8h1.4v1.4h-1.4zM159.4,295.4h1.4v1.4h-1.4zM163.7,310.6h1.4v1.4h-1.4zM159.3,305.8h1.4v1.4h-1.4zM176.9,309.4h1.4v1.4h-1.4zM151.4,306.2h1.4v1.4h-1.4zM138.7,300.2h1.4v1.4h-1.4zM149.8,290.4h1.4v1.4h-1.4zM173.8,313.2h1.4v1.4h-1.4zM194.9,298.2h1.4v1.4h-1.4zM173.2,310.6h1.4v1.4h-1.4zM197.6,290.3h1.4v1.4h-1.4zM173.9,283.5h1.4v1.4h-1.4zM174.3,297.8h1.4v1.4h-1.4zM159.4,291.2h1.4v1.4h-1.4zM179.5,286.3h1.4v1.4h-1.4zM161.0,304.2h1.4v1.4h-1.4zM158.9,307.4h1.4v1.4h-1.4zM173.9,300.0h1.4v1.4h-1.4zM150.9,310.6h1.4v1.4h-1.4zM154.4,317.6h1.4v1.4h-1.4zM139.6,288.3h1.4v1.4h-1.4zM152.1,311.5h1.4v1.4h-1.4zM149.9,301.4h1.4v1.4h-1.4zM154.6,317.0h1.4v1.4h-1.4zM149.9,310.7h1.4v1.4h-1.4zM152.4,316.4h1.4v1.4h-1.4zM152.6,314.0h1.4v1.4h-1.4zM153.0,313.5h1.4v1.4h-1.4zM155.5,316.9h1.4v1.4h-1.4zM148.2,305.4h1.4v1.4h-1.4zM145.8,298.4h1.4v1.4h-1.4zM154.3,319.6h1.4v1.4h-1.4zM150.5,310.5h1.4v1.4h-1.4zM157.1,321.2h1.4v1.4h-1.4zM154.0,320.5h1.4v1.4h-1.4zM149.9,307.8h1.4v1.4h-1.4zM149.4,308.8h1.4v1.4h-1.4zM144.2,297.3h1.4v1.4h-1.4zM148.8,305.5h1.4v1.4h-1.4zM155.7,317.3h1.4v1.4h-1.4zM149.9,309.8h1.4v1.4h-1.4zM156.5,321.2h1.4v1.4h-1.4zM155.9,318.0h1.4v1.4h-1.4zM154.3,317.6h1.4v1.4h-1.4zM152.3,316.5h1.4v1.4h-1.4zM150.3,309.3h1.4v1.4h-1.4zM148.5,305.7h1.4v1.4h-1.4zM156.2,322.8h1.4v1.4h-1.4zM154.3,292.1h1.4v1.4h-1.4zM160.6,295.7h1.4v1.4h-1.4zM154.0,302.8h1.4v1.4h-1.4zM157.1,299.6h1.4v1.4h-1.4zM158.8,304.1h1.4v1.4h-1.4zM161.7,291.7h1.4v1.4h-1.4zM167.6,295.5h1.4v1.4h-1.4zM155.4,300.5h1.4v1.4h-1.4zM156.9,296.0h1.4v1.4h-1.4zM155.3,296.2h1.4v1.4h-1.4zM164.2,298.8h1.4v1.4h-1.4zM165.4,304.8h1.4v1.4h-1.4zM162.1,294.2h1.4v1.4h-1.4zM158.3,299.2h1.4v1.4h-1.4zM150.0,297.1h1.4v1.4h-1.4zM151.1,302.1h1.4v1.4h-1.4zM147.1,296.0h1.4v1.4h-1.4zM159.1,298.2h1.4v1.4h-1.4zM152.1,300.3h1.4v1.4h-1.4zM157.2,303.2h1.4v1.4h-1.4zM158.2,300.7h1.4v1.4h-1.4zM147.9,298.2h1.4v1.4h-1.4zM158.0,293.5h1.4v1.4h-1.4zM144.3,300.3h1.4v1.4h-1.4zM164.9,295.1h1.4v1.4h-1.4zM162.5,300.0h1.4v1.4h-1.4zM154.1,294.9h1.4v1.4h-1.4zM173.7,299.9h1.4v1.4h-1.4zM160.0,296.2h1.4v1.4h-1.4zM149.2,298.5h1.4v1.4h-1.4zM139.3,323.2h1.4v1.4h-1.4zM136.4,313.2h1.4v1.4h-1.4zM137.4,322.9h1.4v1.4h-1.4zM137.8,323.3h1.4v1.4h-1.4zM141.0,320.3h1.4v1.4h-1.4zM139.9,329.9h1.4v1.4h-1.4zM141.7,322.3h1.4v1.4h-1.4zM142.8,321.4h1.4v1.4h-1.4zM128.2,323.3h1.4v1.4h-1.4zM141.9,323.2h1.4v1.4h-1.4zM138.1,316.2h1.4v1.4h-1.4zM138.5,323.9h1.4v1.4h-1.4zM143.4,322.6h1.4v1.4h-1.4zM135.0,311.7h1.4v1.4h-1.4zM143.5,316.4h1.4v1.4h-1.4zM146.1,316.9h1.4v1.4h-1.4zM139.6,327.0h1.4v1.4h-1.4zM134.6,314.5h1.4v1.4h-1.4zM142.7,322.6h1.4v1.4h-1.4zM141.7,319.8h1.4v1.4h-1.4zM139.9,316.6h1.4v1.4h-1.4zM140.7,324.9h1.4v1.4h-1.4zM123.4,330.2h1.4v1.4h-1.4zM148.6,326.3h1.4v1.4h-1.4zM138.7,324.5h1.4v1.4h-1.4zM137.6,317.1h1.4v1.4h-1.4zM143.2,325.0h1.4v1.4h-1.4zM141.1,311.1h1.4v1.4h-1.4zM138.5,321.3h1.4v1.4h-1.4zM137.6,314.7h1.4v1.4h-1.4zM148.0,310.4h1.4v1.4h-1.4zM137.1,331.2h1.4v1.4h-1.4zM139.9,317.3h1.4v1.4h-1.4zM136.9,326.0h1.4v1.4h-1.4zM137.3,326.2h1.4v1.4h-1.4zM143.2,322.3h1.4v1.4h-1.4zM143.2,316.9h1.4v1.4h-1.4zM128.9,316.7h1.4v1.4h-1.4zM138.2,317.7h1.4v1.4h-1.4zM146.7,314.0h1.4v1.4h-1.4zM148.2,317.5h1.4v1.4h-1.4zM136.5,312.6h1.4v1.4h-1.4zM141.6,328.2h1.4v1.4h-1.4zM133.6,330.3h1.4v1.4h-1.4zM145.6,323.9h1.4v1.4h-1.4zM136.6,330.7h1.4v1.4h-1.4zM135.9,331.0h1.4v1.4h-1.4zM143.1,311.0h1.4v1.4h-1.4zM150.9,326.7h1.4v1.4h-1.4zM136.4,314.4h1.4v1.4h-1.4zM115.8,344.0h1.4v1.4h-1.4zM120.8,341.0h1.4v1.4h-1.4zM112.5,345.9h1.4v1.4h-1.4zM118.0,341.7h1.4v1.4h-1.4zM119.0,342.2h1.4v1.4h-1.4zM115.0,345.1h1.4v1.4h-1.4zM120.5,342.4h1.4v1.4h-1.4zM117.2,343.8h1.4v1.4h-1.4zM120.8,341.6h1.4v1.4h-1.4zM116.1,343.3h1.4v1.4h-1.4zM121.1,340.9h1.4v1.4h-1.4zM119.3,341.6h1.4v1.4h-1.4zM111.7,346.2h1.4v1.4h-1.4zM121.8,340.5h1.4v1.4h-1.4zM118.3,343.7h1.4v1.4h-1.4zM115.8,343.8h1.4v1.4h-1.4zM117.9,343.1h1.4v1.4h-1.4zM115.4,343.5h1.4v1.4h-1.4zM120.0,340.8h1.4v1.4h-1.4zM114.8,345.1h1.4v1.4h-1.4zM115.9,342.6h1.4v1.4h-1.4zM122.1,341.2h1.4v1.4h-1.4zM119.7,342.1h1.4v1.4h-1.4zM115.7,344.9h1.4v1.4h-1.4zM116.2,343.4h1.4v1.4h-1.4zM115.3,344.0h1.4v1.4h-1.4zM137.9,332.7h1.4v1.4h-1.4zM119.8,341.7h1.4v1.4h-1.4zM119.7,342.1h1.4v1.4h-1.4zM122.7,341.1h1.4v1.4h-1.4zM125.0,338.8h1.4v1.4h-1.4zM122.4,340.8h1.4v1.4h-1.4zM122.4,340.6h1.4v1.4h-1.4zM118.2,342.2h1.4v1.4h-1.4zM113.6,344.8h1.4v1.4h-1.4zM116.3,344.8h1.4v1.4h-1.4zM117.3,343.5h1.4v1.4h-1.4zM116.5,343.2h1.4v1.4h-1.4zM117.0,344.6h1.4v1.4h-1.4zM119.4,342.1h1.4v1.4h-1.4zM116.3,342.6h1.4v1.4h-1.4zM115.6,343.6h1.4v1.4h-1.4zM122.1,339.6h1.4v1.4h-1.4zM114.9,344.7h1.4v1.4h-1.4zM115.4,343.9h1.4v1.4h-1.4zM110.0,347.2h1.4v1.4h-1.4zM121.3,341.6h1.4v1.4h-1.4zM116.9,343.0h1.4v1.4h-1.4zM117.9,343.6h1.4v1.4h-1.4zM111.2,347.0h1.4v1.4h-1.4zM116.0,344.5h1.4v1.4h-1.4zM117.3,343.8h1.4v1.4h-1.4zM118.6,343.5h1.4v1.4h-1.4zM113.6,345.2h1.4v1.4h-1.4zM111.5,346.3h1.4v1.4h-1.4zM122.4,340.9h1.4v1.4h-1.4zM122.0,340.9h1.4v1.4h-1.4zM118.8,343.1h1.4v1.4h-1.4zM121.7,341.2h1.4v1.4h-1.4zM113.9,345.8h1.4v1.4h-1.4zM114.7,345.0h1.4v1.4h-1.4zM120.7,341.0h1.4v1.4h-1.4zM115.9,343.4h1.4v1.4h-1.4zM112.7,346.2h1.4v1.4h-1.4zM115.3,345.4h1.4v1.4h-1.4zM119.4,342.3h1.4v1.4h-1.4zM118.1,342.0h1.4v1.4h-1.4zM114.5,344.1h1.4v1.4h-1.4zM122.6,340.6h1.4v1.4h-1.4zM114.3,345.2h1.4v1.4h-1.4zM117.1,343.4h1.4v1.4h-1.4zM114.6,345.6h1.4v1.4h-1.4zM112.1,346.0h1.4v1.4h-1.4zM120.3,341.6h1.4v1.4h-1.4zM114.6,345.4h1.4v1.4h-1.4zM116.8,344.5h1.4v1.4h-1.4zM113.4,345.8h1.4v1.4h-1.4zM121.9,340.8h1.4v1.4h-1.4zM116.4,344.6h1.4v1.4h-1.4zM117.9,342.7h1.4v1.4h-1.4zM116.4,343.8h1.4v1.4h-1.4zM117.5,343.6h1.4v1.4h-1.4zM117.6,342.9h1.4v1.4h-1.4zM117.1,343.8h1.4v1.4h-1.4zM122.6,340.6h1.4v1.4h-1.4zM118.6,342.7h1.4v1.4h-1.4zM121.4,341.1h1.4v1.4h-1.4zM119.6,341.7h1.4v1.4h-1.4zM116.5,342.7h1.4v1.4h-1.4zM118.2,343.0h1.4v1.4h-1.4zM119.3,342.7h1.4v1.4h-1.4zM115.0,344.2h1.4v1.4h-1.4zM118.6,343.3h1.4v1.4h-1.4zM121.4,341.4h1.4v1.4h-1.4zM122.0,341.1h1.4v1.4h-1.4zM114.0,345.4h1.4v1.4h-1.4zM118.4,343.4h1.4v1.4h-1.4zM119.7,343.0h1.4v1.4h-1.4zM116.5,343.5h1.4v1.4h-1.4zM122.1,341.4h1.4v1.4h-1.4zM118.0,342.1h1.4v1.4h-1.4zM123.2,339.2h1.4v1.4h-1.4zM114.2,344.8h1.4v1.4h-1.4zM119.3,343.2h1.4v1.4h-1.4zM116.6,343.7h1.4v1.4h-1.4zM119.1,341.2h1.4v1.4h-1.4zM116.3,343.9h1.4v1.4h-1.4zM118.0,342.3h1.4v1.4h-1.4zM115.8,343.3h1.4v1.4h-1.4zM128.6,337.6h1.4v1.4h-1.4zM122.8,340.4h1.4v1.4h-1.4zM115.1,345.2h1.4v1.4h-1.4zM118.5,341.5h1.4v1.4h-1.4zM122.5,338.7h1.4v1.4h-1.4zM114.9,343.9h1.4v1.4h-1.4zM116.7,343.1h1.4v1.4h-1.4zM114.4,344.5h1.4v1.4h-1.4zM120.1,341.4h1.4v1.4h-1.4zM116.7,343.3h1.4v1.4h-1.4zM116.8,342.6h1.4v1.4h-1.4zM121.3,329.5h1.4v1.4h-1.4zM113.8,337.9h1.4v1.4h-1.4zM123.2,329.7h1.4v1.4h-1.4zM120.8,331.3h1.4v1.4h-1.4zM123.5,329.8h1.4v1.4h-1.4zM115.1,336.3h1.4v1.4h-1.4zM119.5,333.6h1.4v1.4h-1.4zM120.4,332.6h1.4v1.4h-1.4zM118.9,333.5h1.4v1.4h-1.4zM123.7,327.0h1.4v1.4h-1.4zM121.6,330.1h1.4v1.4h-1.4zM120.1,330.5h1.4v1.4h-1.4zM121.5,329.8h1.4v1.4h-1.4zM122.6,330.4h1.4v1.4h-1.4zM121.9,331.1h1.4v1.4h-1.4zM126.8,326.6h1.4v1.4h-1.4zM121.9,330.9h1.4v1.4h-1.4zM121.2,328.6h1.4v1.4h-1.4zM121.8,330.1h1.4v1.4h-1.4zM120.2,331.0h1.4v1.4h-1.4zM122.7,330.6h1.4v1.4h-1.4zM120.3,331.7h1.4v1.4h-1.4zM123.0,331.0h1.4v1.4h-1.4zM120.0,333.8h1.4v1.4h-1.4zM121.0,332.9h1.4v1.4h-1.4zM122.4,328.4h1.4v1.4h-1.4zM119.7,332.9h1.4v1.4h-1.4zM120.0,331.1h1.4v1.4h-1.4zM121.2,331.3h1.4v1.4h-1.4zM117.0,335.0h1.4v1.4h-1.4zM122.6,331.1h1.4v1.4h-1.4zM115.3,337.6h1.4v1.4h-1.4zM120.2,331.2h1.4v1.4h-1.4zM116.7,335.2h1.4v1.4h-1.4zM119.4,332.5h1.4v1.4h-1.4zM118.7,334.0h1.4v1.4h-1.4zM122.1,329.1h1.4v1.4h-1.4zM120.7,330.7h1.4v1.4h-1.4zM119.7,331.6h1.4v1.4h-1.4zM122.2,329.6h1.4v1.4h-1.4zM133.7,336.2h1.4v1.4h-1.4zM121.8,336.0h1.4v1.4h-1.4zM137.8,328.4h1.4v1.4h-1.4zM122.0,335.7h1.4v1.4h-1.4zM127.7,336.1h1.4v1.4h-1.4zM116.6,343.9h1.4v1.4h-1.4zM131.0,334.7h1.4v1.4h-1.4zM130.6,333.1h1.4v1.4h-1.4zM126.5,336.4h1.4v1.4h-1.4zM127.6,337.5h1.4v1.4h-1.4zM127.0,335.6h1.4v1.4h-1.4zM129.3,334.7h1.4v1.4h-1.4zM129.6,333.5h1.4v1.4h-1.4zM121.2,341.1h1.4v1.4h-1.4zM134.7,334.6h1.4v1.4h-1.4zM128.4,335.7h1.4v1.4h-1.4zM125.5,335.4h1.4v1.4h-1.4zM129.5,337.0h1.4v1.4h-1.4zM118.6,335.7h1.4v1.4h-1.4zM140.6,329.9h1.4v1.4h-1.4zM120.7,337.2h1.4v1.4h-1.4zM122.0,338.1h1.4v1.4h-1.4zM128.7,334.7h1.4v1.4h-1.4zM128.4,336.8h1.4v1.4h-1.4zM130.8,337.1h1.4v1.4h-1.4zM126.7,335.4h1.4v1.4h-1.4zM120.4,339.5h1.4v1.4h-1.4zM121.6,338.1h1.4v1.4h-1.4zM125.5,337.1h1.4v1.4h-1.4zM131.1,335.4h1.4v1.4h-1.4zM69.6,325.3h1.4v1.4h-1.4zM69.5,325.5h1.4v1.4h-1.4zM69.3,323.8h1.4v1.4h-1.4zM67.5,323.5h1.4v1.4h-1.4zM67.7,325.1h1.4v1.4h-1.4zM69.8,325.1h1.4v1.4h-1.4zM70.3,322.2h1.4v1.4h-1.4zM65.2,323.2h1.4v1.4h-1.4zM68.4,322.8h1.4v1.4h-1.4zM70.0,323.5h1.4v1.4h-1.4zM68.9,323.8h1.4v1.4h-1.4zM68.2,322.3h1.4v1.4h-1.4zM68.5,324.6h1.4v1.4h-1.4zM70.5,323.0h1.4v1.4h-1.4zM70.2,324.1h1.4v1.4h-1.4zM67.5,325.7h1.4v1.4h-1.4zM68.8,322.1h1.4v1.4h-1.4zM69.6,323.6h1.4v1.4h-1.4zM82.6,337.9h1.4v1.4h-1.4zM79.1,335.7h1.4v1.4h-1.4zM79.3,336.0h1.4v1.4h-1.4zM78.0,336.3h1.4v1.4h-1.4zM82.4,337.5h1.4v1.4h-1.4zM79.3,334.9h1.4v1.4h-1.4zM81.3,337.9h1.4v1.4h-1.4zM77.1,337.0h1.4v1.4h-1.4zM83.4,337.7h1.4v1.4h-1.4zM81.2,336.3h1.4v1.4h-1.4zM78.7,336.8h1.4v1.4h-1.4zM82.4,337.3h1.4v1.4h-1.4zM81.6,336.3h1.4v1.4h-1.4zM79.5,338.1h1.4v1.4h-1.4zM80.1,337.5h1.4v1.4h-1.4zM79.0,335.1h1.4v1.4h-1.4zM80.2,336.7h1.4v1.4h-1.4zM73.9,335.3h1.4v1.4h-1.4zM102.8,319.1h1.4v1.4h-1.4zM88.4,325.2h1.4v1.4h-1.4zM106.0,324.8h1.4v1.4h-1.4zM82.3,327.7h1.4v1.4h-1.4zM96.7,331.8h1.4v1.4h-1.4zM102.1,315.9h1.4v1.4h-1.4zM107.3,322.2h1.4v1.4h-1.4zM110.8,321.8h1.4v1.4h-1.4zM93.6,318.1h1.4v1.4h-1.4zM102.1,320.1h1.4v1.4h-1.4zM93.2,316.0h1.4v1.4h-1.4zM106.4,321.2h1.4v1.4h-1.4zM111.6,318.7h1.4v1.4h-1.4zM96.6,318.4h1.4v1.4h-1.4zM95.1,319.0h1.4v1.4h-1.4zM96.4,319.0h1.4v1.4h-1.4zM109.1,317.1h1.4v1.4h-1.4zM103.4,319.8h1.4v1.4h-1.4zM93.8,314.9h1.4v1.4h-1.4zM95.1,320.9h1.4v1.4h-1.4zM108.1,313.2h1.4v1.4h-1.4zM107.1,321.2h1.4v1.4h-1.4zM98.8,321.2h1.4v1.4h-1.4zM108.1,319.1h1.4v1.4h-1.4zM93.5,331.9h1.4v1.4h-1.4zM76.3,323.8h1.4v1.4h-1.4zM93.2,322.4h1.4v1.4h-1.4zM88.4,324.7h1.4v1.4h-1.4zM95.7,326.1h1.4v1.4h-1.4zM86.7,325.5h1.4v1.4h-1.4zM101.7,323.8h1.4v1.4h-1.4zM88.1,325.3h1.4v1.4h-1.4zM88.2,328.4h1.4v1.4h-1.4zM105.4,323.9h1.4v1.4h-1.4zM99.0,328.6h1.4v1.4h-1.4zM92.3,316.7h1.4v1.4h-1.4zM92.1,323.6h1.4v1.4h-1.4zM108.6,315.6h1.4v1.4h-1.4zM94.6,325.5h1.4v1.4h-1.4zM88.5,329.1h1.4v1.4h-1.4zM102.4,315.7h1.4v1.4h-1.4zM97.6,319.0h1.4v1.4h-1.4zM91.2,325.4h1.4v1.4h-1.4zM97.4,325.7h1.4v1.4h-1.4zM102.1,323.3h1.4v1.4h-1.4zM100.3,314.9h1.4v1.4h-1.4zM91.6,318.7h1.4v1.4h-1.4zM95.7,319.4h1.4v1.4h-1.4zM108.0,319.6h1.4v1.4h-1.4zM123.5,314.7h1.4v1.4h-1.4zM44.6,318.6h1.4v1.4h-1.4zM77.0,318.2h1.4v1.4h-1.4zM60.5,322.0h1.4v1.4h-1.4zM73.1,322.7h1.4v1.4h-1.4zM58.4,315.8h1.4v1.4h-1.4zM53.9,321.0h1.4v1.4h-1.4zM43.6,319.7h1.4v1.4h-1.4zM74.7,315.7h1.4v1.4h-1.4zM66.5,316.9h1.4v1.4h-1.4zM51.7,320.5h1.4v1.4h-1.4zM65.6,319.0h1.4v1.4h-1.4zM63.7,321.3h1.4v1.4h-1.4zM76.6,316.5h1.4v1.4h-1.4zM49.7,324.4h1.4v1.4h-1.4zM67.5,317.3h1.4v1.4h-1.4zM65.4,324.1h1.4v1.4h-1.4zM55.7,320.4h1.4v1.4h-1.4zM68.1,317.4h1.4v1.4h-1.4zM48.5,321.7h1.4v1.4h-1.4zM59.2,319.9h1.4v1.4h-1.4zM51.8,321.2h1.4v1.4h-1.4zM68.9,319.5h1.4v1.4h-1.4zM59.9,316.6h1.4v1.4h-1.4zM60.1,319.9h1.4v1.4h-1.4zM57.5,321.2h1.4v1.4h-1.4zM72.8,314.1h1.4v1.4h-1.4zM60.7,323.3h1.4v1.4h-1.4zM51.4,318.1h1.4v1.4h-1.4zM67.9,319.9h1.4v1.4h-1.4zM54.2,319.2h1.4v1.4h-1.4zM40.5,348.6h1.4v1.4h-1.4zM39.3,348.0h1.4v1.4h-1.4zM40.8,346.9h1.4v1.4h-1.4zM41.2,347.2h1.4v1.4h-1.4zM40.9,346.4h1.4v1.4h-1.4zM39.3,346.5h1.4v1.4h-1.4zM42.4,347.9h1.4v1.4h-1.4zM33.0,353.6h1.4v1.4h-1.4zM32.9,353.2h1.4v1.4h-1.4zM33.1,354.3h1.4v1.4h-1.4zM32.4,354.8h1.4v1.4h-1.4zM31.8,353.1h1.4v1.4h-1.4zM121.3,191.5h1.4v1.4h-1.4zM122.8,191.4h1.4v1.4h-1.4zM124.3,191.6h1.4v1.4h-1.4zM125.5,191.9h1.4v1.4h-1.4zM134.5,201.9h1.4v1.4h-1.4zM141.4,189.9h1.4v1.4h-1.4zM121.8,197.9h1.4v1.4h-1.4zM125.6,200.1h1.4v1.4h-1.4z" fill="#ee1020"/>
<text x="30.7" y="191" class="plb">(c)</text>
<text x="240.1" y="184.2" text-anchor="middle" class="n">N</text>
<path d="M240.2,187.6L232.6,210.9L240.2,202.7Z" fill="#000"/>
<path d="M240.2,187.6L246.5,210.9L240.2,202.7Z" fill="#fff" stroke="#000" stroke-width="0.6"/>
<text x="221.2" y="354.9" text-anchor="middle" class="yr">2020</text>
<circle cx="200.9" cy="367.1" r="1.5" fill="#e81010"/>
<text x="209.0" y="370.4" class="fs">Fire spots</text>
<rect x="188.5" y="385.2" width="58.7" height="2.6" fill="#fff" stroke="#000" stroke-width="0.4"/>
<rect x="188.50" y="385.2" width="3.67" height="2.6" fill="#000"/>
<rect x="195.84" y="385.2" width="3.67" height="2.6" fill="#000"/>
<rect x="203.18" y="385.2" width="14.68" height="2.6" fill="#000"/>
<rect x="232.53" y="385.2" width="14.68" height="2.6" fill="#000"/>
<text x="188.5" y="382.6" text-anchor="middle" class="sb">0</text>
<text x="196.1" y="382.6" text-anchor="middle" class="sb">75</text>
<text x="203.0" y="382.6" text-anchor="middle" class="sb">150</text>
<text x="217.8" y="382.6" text-anchor="middle" class="sb">300</text>
<text x="232.5" y="382.6" text-anchor="middle" class="sb">450</text>
<text x="247.2" y="382.6" text-anchor="middle" class="sb">600</text>
<text x="248.2" y="388" class="sb">KM</text>
</g>
<g id="map-d">
<rect x="302.6" y="173.5" width="236.8" height="218.8" fill="#fff" stroke="#c4c4c4" stroke-width="1"/>
<path d="M303.6,393.3H540.4V174.5" fill="none" stroke="#ececec" stroke-width="1"/>
<path d="M391.2,188.1 385.1,189.1 379.1,192.1 375.1,195.1 378.1,197.1 382.1,199.1 379.1,203.2 376.1,207.2 373.0,212.2 369.0,217.3 366.0,221.3 365.0,224.3 358.9,227.3 352.9,229.4 346.8,228.3 339.8,226.7 335.8,232.4 331.7,238.4 328.7,243.5 326.7,246.5 331.7,250.1 338.8,248.1 345.8,250.1 351.9,247.1 358.9,248.1 366.0,252.1 371.0,256.1 374.6,260.1 370.0,262.2 363.0,261.2 356.9,260.1 350.9,262.2 344.8,265.2 338.8,266.2 334.8,270.2 328.7,274.2 322.7,276.3 316.6,277.3 310.6,280.3 303.5,283.3" fill="none" stroke="#ddd8b8" stroke-width="0.8"/>
<path d="M379.1,192.1 382.5,189.5 386.5,188.3 391.1,188.5" fill="none" stroke="#d8d8d8" stroke-width="0.8"/>
<path d="M341.0,332.0 343.0,335.0 342.0,338.0 344.5,341.0 343.5,344.5 346.0,347.0 345.0,350.5" fill="none" stroke="#d4d4d4" stroke-width="0.8"/>
<path d="M350.9,355.9 356.0,357.4 360.3,358.1 362.5,361.0 362.5,364.6 365.4,366.8 369.8,367.5 373.4,366.8 376.3,363.9 380.0,361.0 382.1,358.8 383.6,355.9 385.0,353.7" fill="none" stroke="#d2d2d2" stroke-width="0.8"/>
<path d="M382.1,358.8 386.5,361.7 390.9,363.9 396.0,363.9 399.6,363.2 403.2,364.6 402.5,367.5 401.0,370.5 396.7,371.2 392.3,371.9 388.0,373.4 384.3,375.5 380.7,377.7 377.0,379.9 374.1,382.8 371.2,385.7 368.3,388.6 366.1,391.5" fill="none" stroke="#ccd3e0" stroke-width="0.8"/>
<path d="M303.2,331.3 307.0,328.5 308.9,325.7" fill="none" stroke="#dcdcdc" stroke-width="0.8"/>
<path d="M303.2,342.6 306.0,340.8 308.9,337.9 310.0,336.2" fill="none" stroke="#dcdcdc" stroke-width="0.8"/>
<path d="M306.5,375.0 306.0,382.3 304.2,389.8" fill="none" stroke="#dcdcdc" stroke-width="0.8"/>
<path d="M325.0,378.5 326.8,380.4 331.5,379.4 334.5,381.0 332.5,385.0 328.5,388.0 325.5,391.5" fill="none" stroke="#dcdcdc" stroke-width="0.8"/>
<path d="M362.5,364.6 360.5,370.0 356.5,375.0 352.5,381.0 348.5,386.0 345.5,391.5" fill="none" stroke="#dcdcdc" stroke-width="0.8"/>
<path d="M391.3,188.2 396.8,187.4 403.5,186.6 410.1,185.8 414.5,186.0 419.0,187.8 422.3,189.1 427.8,189.6 433.4,190.0 436.7,191.9 440.0,194.6 443.0,199.2 447.1,205.3 449.5,210.3 453.1,216.3 456.1,222.4 459.2,227.4 465.0,230.2 473.5,231.6 480.8,234.2 487.9,237.2 491.3,240.2 490.5,243.2 492.9,247.3 496.9,249.7 504.0,249.9 511.0,248.3 518.1,245.9 525.1,244.2 533.2,243.2 537.6,242.2 534.2,247.3 532.8,253.3 528.1,260.4 523.1,267.4 520.1,274.5 516.1,279.3 509.0,278.3 502.5,277.3 498.0,280.5 496.0,285.2 497.0,290.2 497.4,296.3 495.0,301.3 490.9,303.3 488.9,307.3 485.9,305.3 481.9,307.3 476.8,310.4 471.8,312.8 466.8,314.0 463.8,318.4 458.7,319.4 452.7,317.0 449.7,315.8 445.6,319.8 440.6,323.5 435.6,327.0 430.5,330.5 426.9,332.4 419.9,336.4 413.5,337.7 409.9,338.7 406.8,339.7 403.8,341.2 400.8,343.2 397.8,345.2 393.7,347.3 389.7,348.8 386.7,349.3 387.2,347.8 390.7,346.3 393.2,344.2 392.2,342.2 389.7,341.2 391.7,338.7 393.7,336.7 396.3,334.7 398.3,332.1 399.3,329.6 398.3,327.1 396.8,324.6 394.8,325.1 391.7,325.1 388.2,325.6 385.2,327.1 382.7,330.1 380.1,333.1 376.6,334.7 372.6,336.7 368.5,339.6 366.5,342.2 365.6,343.2 362.2,345.2 358.2,345.8 354.8,344.6 351.9,341.8 349.7,338.4 348.5,335.0 346.3,332.2 344.0,329.3 341.7,327.1 338.9,325.4 336.1,327.1 333.2,329.3 330.4,330.5 329.8,333.3 327.0,335.0 325.9,337.8 327.6,340.1 331.0,340.1 334.4,340.7 337.8,340.7 340.6,342.4 341.7,345.2 341.2,348.0 342.9,350.3 346.3,351.4 349.1,353.1 350.8,355.4 348.0,357.1 344.6,358.8 341.2,360.2 337.9,361.4 334.5,364.3 331.7,367.1 328.8,369.9 326.0,372.8 324.9,375.6 326.0,378.4 322.6,378.2 320.3,379.0 316.4,377.9 311.8,376.2 307.9,375.0 305.0,373.3 305.6,371.1 307.9,367.7 310.1,364.3 310.7,361.4 309.0,358.0 306.7,355.8 306.2,352.4 307.9,349.2 309.6,347.0 312.4,345.2 314.7,343.5 315.8,341.3 314.7,339.0 312.4,337.3 310.1,336.2 310.7,334.5 313.0,332.2 313.5,329.4 311.8,327.1 309.6,324.8 308.4,322.0 309.6,319.2 312.4,316.3 314.7,313.5 317.5,312.4 319.8,314.1 320.3,316.3 322.0,318.6 324.9,318.0 327.7,316.9 331.1,316.3 334.5,315.8 337.9,314.6 340.7,312.9 341.9,310.1 344.2,308.4 347.6,307.3 351.2,307.7 353.5,310.0 355.3,313.6 356.7,318.2 358.0,320.9 362.1,321.4 366.7,321.4 368.0,318.2 367.6,314.5 367.1,311.4 369.9,309.5 372.1,311.2 373.7,312.8 375.8,316.0 379.0,313.9 383.2,311.7 387.4,310.2 391.7,308.0 395.9,306.5 400.1,305.4 404.4,304.9 408.6,303.8 412.3,302.2 414.4,300.1 412.8,297.5 412.8,294.3 411.2,290.1 408.6,286.9 404.4,287.9 400.1,287.9 398.5,285.0 398.3,282.7 399.2,279.1 398.0,275.5 395.6,273.7 393.2,271.9 395.6,269.7 398.6,271.3 402.2,270.6 404.6,268.8 407.1,265.8 409.5,264.0 412.5,262.2 413.7,260.4 411.9,258.6 408.9,261.6 406.5,260.4 403.4,258.0 401.0,254.3 404.6,251.9 409.5,248.9 415.5,244.7 421.7,241.2 423.0,245.7 424.6,241.6 425.8,238.0 427.6,235.8 430.6,231.3 431.4,227.5 432.9,223.7 436.7,219.2 438.9,215.1 437.8,212.4 434.5,209.6 431.2,208.5 427.8,210.2 423.4,211.3 419.0,211.3 414.5,210.7 409.6,209.6 406.2,207.4 405.1,204.1 403.5,200.2 400.7,198.0 397.4,198.0 394.6,199.1 392.4,197.4 388.5,196.3 391.8,194.1 394.6,191.9Z" fill="#73dcfb" stroke="#1d4450" stroke-width="0.8" stroke-linejoin="round"/>
<path d="M412.5,262.8 415.5,266.4 417.9,270.0 421.6,273.7 426.4,274.9 431.2,274.3 436.1,275.5 438.5,277.9 443.3,278.5 448.3,279.9 451.4,282.9 454.4,285.3 457.4,287.1 460.4,288.9 462.8,287.1 465.3,286.5 467.1,290.1 469.5,293.8 472.5,295.6 476.8,294.4 481.0,293.2 484.6,292.0 487.6,293.8 491.3,295.6 494.9,297.4 496.7,298.0" fill="none" stroke="#1d4450" stroke-width="0.8"/>
<path d="M414.4,300.1 417.5,299.3 420.4,299.6 423.4,302.0 426.5,303.9 428.9,306.9 431.3,311.1 433.1,315.3 434.9,320.2 436.7,324.4 437.3,326.8" fill="none" stroke="#1d4450" stroke-width="0.8"/>
<path d="M366.7,321.4 364.0,324.1 365.8,327.3 368.5,330.0 370.8,331.8 372.6,335.2" fill="none" stroke="#1d4450" stroke-width="0.8"/>
<path d="M422.1,298.5h1.4v1.4h-1.4zM423.0,306.6h1.4v1.4h-1.4zM455.8,303.9h1.4v1.4h-1.4zM412.0,270.3h1.4v1.4h-1.4zM424.7,308.6h1.4v1.4h-1.4zM457.7,273.5h1.4v1.4h-1.4zM481.7,262.6h1.4v1.4h-1.4zM318.8,338.7h1.4v1.4h-1.4zM434.0,271.6h1.4v1.4h-1.4zM364.5,334.0h1.4v1.4h-1.4zM313.9,370.5h1.4v1.4h-1.4zM467.5,235.0h1.4v1.4h-1.4zM442.5,242.0h1.4v1.4h-1.4zM439.8,212.6h1.4v1.4h-1.4zM416.2,325.9h1.4v1.4h-1.4zM430.9,327.2h1.4v1.4h-1.4zM386.1,317.2h1.4v1.4h-1.4zM505.8,265.8h1.4v1.4h-1.4zM449.1,259.1h1.4v1.4h-1.4zM438.9,270.3h1.4v1.4h-1.4zM324.3,329.7h1.4v1.4h-1.4zM443.6,278.0h1.4v1.4h-1.4zM466.0,281.2h1.4v1.4h-1.4zM457.2,270.5h1.4v1.4h-1.4zM380.4,313.5h1.4v1.4h-1.4zM400.5,305.8h1.4v1.4h-1.4zM468.4,295.2h1.4v1.4h-1.4zM407.9,306.6h1.4v1.4h-1.4zM465.8,285.6h1.4v1.4h-1.4zM479.4,261.2h1.4v1.4h-1.4zM455.2,225.0h1.4v1.4h-1.4zM487.3,247.2h1.4v1.4h-1.4zM502.3,252.6h1.4v1.4h-1.4zM482.1,279.3h1.4v1.4h-1.4zM424.1,324.6h1.4v1.4h-1.4zM426.4,241.4h1.4v1.4h-1.4zM452.3,286.1h1.4v1.4h-1.4zM434.1,245.5h1.4v1.4h-1.4zM437.1,224.3h1.4v1.4h-1.4zM421.0,301.9h1.4v1.4h-1.4zM397.4,339.5h1.4v1.4h-1.4zM418.2,318.4h1.4v1.4h-1.4zM429.2,265.1h1.4v1.4h-1.4zM512.6,277.2h1.4v1.4h-1.4zM463.4,247.5h1.4v1.4h-1.4zM405.7,257.8h1.4v1.4h-1.4zM452.2,287.4h1.4v1.4h-1.4zM358.6,327.9h1.4v1.4h-1.4zM360.2,325.2h1.4v1.4h-1.4zM327.4,345.5h1.4v1.4h-1.4zM397.9,317.2h1.4v1.4h-1.4zM351.3,316.7h1.4v1.4h-1.4zM421.6,331.2h1.4v1.4h-1.4zM423.7,294.9h1.4v1.4h-1.4zM319.3,368.4h1.4v1.4h-1.4zM481.3,248.4h1.4v1.4h-1.4zM423.8,268.3h1.4v1.4h-1.4zM409.7,327.6h1.4v1.4h-1.4zM450.1,263.4h1.4v1.4h-1.4zM398.6,324.4h1.4v1.4h-1.4zM452.3,305.5h1.4v1.4h-1.4zM382.9,312.4h1.4v1.4h-1.4zM427.9,260.5h1.4v1.4h-1.4zM475.3,235.0h1.4v1.4h-1.4zM431.8,283.2h1.4v1.4h-1.4zM419.3,303.0h1.4v1.4h-1.4zM426.5,300.5h1.4v1.4h-1.4zM370.9,311.5h1.4v1.4h-1.4zM370.4,323.3h1.4v1.4h-1.4zM479.0,260.6h1.4v1.4h-1.4zM321.9,359.5h1.4v1.4h-1.4zM459.0,273.2h1.4v1.4h-1.4zM439.2,266.2h1.4v1.4h-1.4zM449.1,254.7h1.4v1.4h-1.4zM462.9,294.1h1.4v1.4h-1.4zM403.0,305.4h1.4v1.4h-1.4zM429.9,199.6h1.4v1.4h-1.4zM460.9,291.4h1.4v1.4h-1.4zM491.7,256.5h1.4v1.4h-1.4zM517.3,267.8h1.4v1.4h-1.4zM327.4,353.7h1.4v1.4h-1.4zM416.8,317.3h1.4v1.4h-1.4zM468.5,295.0h1.4v1.4h-1.4zM423.9,290.2h1.4v1.4h-1.4zM454.6,232.8h1.4v1.4h-1.4zM481.5,285.8h1.4v1.4h-1.4zM418.8,288.9h1.4v1.4h-1.4zM452.6,286.3h1.4v1.4h-1.4zM490.0,266.6h1.4v1.4h-1.4zM470.4,299.9h1.4v1.4h-1.4zM493.4,277.7h1.4v1.4h-1.4zM414.0,257.0h1.4v1.4h-1.4zM469.5,302.0h1.4v1.4h-1.4zM424.0,308.0h1.4v1.4h-1.4zM415.7,275.7h1.4v1.4h-1.4zM326.0,344.3h1.4v1.4h-1.4zM430.3,286.6h1.4v1.4h-1.4zM469.9,254.8h1.4v1.4h-1.4zM468.7,231.3h1.4v1.4h-1.4zM447.0,241.4h1.4v1.4h-1.4zM429.5,242.9h1.4v1.4h-1.4zM395.4,313.7h1.4v1.4h-1.4zM351.1,326.1h1.4v1.4h-1.4zM471.9,249.4h1.4v1.4h-1.4zM441.7,203.0h1.4v1.4h-1.4zM517.3,267.7h1.4v1.4h-1.4zM494.3,259.8h1.4v1.4h-1.4zM400.0,188.7h1.4v1.4h-1.4zM446.0,216.1h1.4v1.4h-1.4zM337.7,322.7h1.4v1.4h-1.4zM424.0,323.0h1.4v1.4h-1.4zM449.6,223.7h1.4v1.4h-1.4zM465.7,248.9h1.4v1.4h-1.4zM434.3,293.3h1.4v1.4h-1.4zM333.3,344.0h1.4v1.4h-1.4zM475.1,259.0h1.4v1.4h-1.4zM436.0,249.5h1.4v1.4h-1.4zM313.7,314.5h1.4v1.4h-1.4zM413.3,264.7h1.4v1.4h-1.4zM478.3,279.0h1.4v1.4h-1.4zM426.3,286.5h1.4v1.4h-1.4zM513.5,247.3h1.4v1.4h-1.4zM473.8,300.4h1.4v1.4h-1.4zM408.1,282.2h1.4v1.4h-1.4zM317.0,319.1h1.4v1.4h-1.4zM402.2,340.3h1.4v1.4h-1.4zM477.1,294.5h1.4v1.4h-1.4zM312.2,358.2h1.4v1.4h-1.4zM344.6,354.6h1.4v1.4h-1.4zM472.3,245.8h1.4v1.4h-1.4zM336.1,319.3h1.4v1.4h-1.4zM407.6,200.9h1.4v1.4h-1.4zM375.8,322.1h1.4v1.4h-1.4zM390.9,312.8h1.4v1.4h-1.4zM441.0,229.7h1.4v1.4h-1.4zM427.4,194.4h1.4v1.4h-1.4zM370.7,330.8h1.4v1.4h-1.4zM411.4,329.8h1.4v1.4h-1.4zM453.7,254.7h1.4v1.4h-1.4zM485.5,284.9h1.4v1.4h-1.4zM438.7,281.5h1.4v1.4h-1.4zM405.2,270.5h1.4v1.4h-1.4zM440.7,202.7h1.4v1.4h-1.4zM341.8,318.3h1.4v1.4h-1.4zM520.0,255.6h1.4v1.4h-1.4zM384.1,319.1h1.4v1.4h-1.4zM499.4,258.9h1.4v1.4h-1.4zM464.4,255.4h1.4v1.4h-1.4zM482.7,285.4h1.4v1.4h-1.4zM467.9,235.7h1.4v1.4h-1.4zM469.3,263.5h1.4v1.4h-1.4zM354.8,318.0h1.4v1.4h-1.4zM458.4,231.7h1.4v1.4h-1.4zM466.7,291.9h1.4v1.4h-1.4zM398.2,196.2h1.4v1.4h-1.4zM440.1,275.7h1.4v1.4h-1.4zM435.4,236.0h1.4v1.4h-1.4zM449.6,304.9h1.4v1.4h-1.4zM430.4,261.3h1.4v1.4h-1.4zM418.8,310.5h1.4v1.4h-1.4zM449.0,293.4h1.4v1.4h-1.4zM528.4,249.7h1.4v1.4h-1.4zM448.3,279.9h1.4v1.4h-1.4zM477.7,288.2h1.4v1.4h-1.4zM409.1,333.9h1.4v1.4h-1.4zM342.5,352.0h1.4v1.4h-1.4zM395.4,323.1h1.4v1.4h-1.4zM470.0,248.4h1.4v1.4h-1.4zM496.0,294.6h1.4v1.4h-1.4zM468.0,305.3h1.4v1.4h-1.4zM391.9,314.2h1.4v1.4h-1.4zM463.5,266.2h1.4v1.4h-1.4zM416.4,257.4h1.4v1.4h-1.4zM465.0,290.5h1.4v1.4h-1.4zM329.7,364.9h1.4v1.4h-1.4zM417.6,208.8h1.4v1.4h-1.4zM416.2,255.9h1.4v1.4h-1.4zM416.7,265.3h1.4v1.4h-1.4zM396.3,196.8h1.4v1.4h-1.4zM456.5,305.3h1.4v1.4h-1.4zM478.7,245.2h1.4v1.4h-1.4zM397.1,339.9h1.4v1.4h-1.4zM328.2,368.1h1.4v1.4h-1.4zM467.6,233.8h1.4v1.4h-1.4zM390.2,311.8h1.4v1.4h-1.4zM513.7,247.4h1.4v1.4h-1.4zM382.2,328.1h1.4v1.4h-1.4zM476.4,290.6h1.4v1.4h-1.4zM404.3,187.5h1.4v1.4h-1.4zM379.0,330.5h1.4v1.4h-1.4zM399.1,321.2h1.4v1.4h-1.4zM368.0,315.7h1.4v1.4h-1.4zM392.2,309.3h1.4v1.4h-1.4zM421.4,294.7h1.4v1.4h-1.4zM409.5,313.4h1.4v1.4h-1.4zM443.5,295.7h1.4v1.4h-1.4zM377.2,327.1h1.4v1.4h-1.4zM488.9,283.9h1.4v1.4h-1.4zM362.8,340.7h1.4v1.4h-1.4zM482.7,291.1h1.4v1.4h-1.4zM321.6,375.3h1.4v1.4h-1.4zM459.1,268.4h1.4v1.4h-1.4zM450.2,239.2h1.4v1.4h-1.4zM334.5,318.9h1.4v1.4h-1.4zM474.8,254.9h1.4v1.4h-1.4zM450.5,267.2h1.4v1.4h-1.4zM399.3,273.4h1.4v1.4h-1.4zM522.1,252.2h1.4v1.4h-1.4zM461.0,273.0h1.4v1.4h-1.4zM443.6,271.8h1.4v1.4h-1.4zM372.5,319.1h1.4v1.4h-1.4zM335.5,357.6h1.4v1.4h-1.4zM441.2,290.5h1.4v1.4h-1.4zM450.9,275.8h1.4v1.4h-1.4zM459.7,301.9h1.4v1.4h-1.4zM411.6,262.7h1.4v1.4h-1.4zM343.5,310.3h1.4v1.4h-1.4zM476.1,234.3h1.4v1.4h-1.4zM400.4,196.1h1.4v1.4h-1.4zM329.1,348.9h1.4v1.4h-1.4zM400.3,187.8h1.4v1.4h-1.4zM427.4,191.2h1.4v1.4h-1.4zM330.8,362.1h1.4v1.4h-1.4zM417.7,311.3h1.4v1.4h-1.4zM475.5,235.3h1.4v1.4h-1.4zM404.0,277.2h1.4v1.4h-1.4zM404.3,272.2h1.4v1.4h-1.4zM426.7,290.8h1.4v1.4h-1.4zM477.8,279.3h1.4v1.4h-1.4zM526.5,255.9h1.4v1.4h-1.4zM445.5,298.9h1.4v1.4h-1.4zM419.7,284.8h1.4v1.4h-1.4zM488.5,267.4h1.4v1.4h-1.4zM449.0,291.7h1.4v1.4h-1.4zM474.9,266.0h1.4v1.4h-1.4zM322.3,335.7h1.4v1.4h-1.4zM478.3,258.2h1.4v1.4h-1.4zM378.8,326.7h1.4v1.4h-1.4zM431.4,207.4h1.4v1.4h-1.4zM333.4,353.4h1.4v1.4h-1.4zM392.0,315.2h1.4v1.4h-1.4zM418.8,318.1h1.4v1.4h-1.4zM440.1,224.5h1.4v1.4h-1.4zM441.4,285.5h1.4v1.4h-1.4zM380.6,319.6h1.4v1.4h-1.4zM365.2,325.9h1.4v1.4h-1.4zM495.2,258.2h1.4v1.4h-1.4zM514.7,273.2h1.4v1.4h-1.4zM358.3,330.3h1.4v1.4h-1.4zM313.1,319.8h1.4v1.4h-1.4zM432.2,249.6h1.4v1.4h-1.4zM445.6,208.9h1.4v1.4h-1.4zM470.7,241.5h1.4v1.4h-1.4zM472.6,236.5h1.4v1.4h-1.4zM341.9,350.7h1.4v1.4h-1.4zM445.5,290.1h1.4v1.4h-1.4zM428.3,312.4h1.4v1.4h-1.4zM317.5,365.5h1.4v1.4h-1.4zM409.4,256.8h1.4v1.4h-1.4zM435.5,252.7h1.4v1.4h-1.4zM321.6,358.8h1.4v1.4h-1.4zM435.4,208.7h1.4v1.4h-1.4zM486.0,285.8h1.4v1.4h-1.4zM426.4,253.7h1.4v1.4h-1.4zM350.5,321.1h1.4v1.4h-1.4zM417.0,200.8h1.4v1.4h-1.4zM417.9,299.1h1.4v1.4h-1.4zM446.3,303.4h1.4v1.4h-1.4zM424.8,297.1h1.4v1.4h-1.4zM497.2,264.0h1.4v1.4h-1.4zM482.6,236.0h1.4v1.4h-1.4zM426.3,250.1h1.4v1.4h-1.4zM455.9,235.7h1.4v1.4h-1.4zM487.2,289.4h1.4v1.4h-1.4zM485.4,250.6h1.4v1.4h-1.4zM337.7,322.9h1.4v1.4h-1.4zM409.6,257.2h1.4v1.4h-1.4zM429.6,294.7h1.4v1.4h-1.4zM397.3,195.7h1.4v1.4h-1.4zM344.9,327.1h1.4v1.4h-1.4zM489.3,281.5h1.4v1.4h-1.4zM447.7,256.6h1.4v1.4h-1.4zM448.9,246.6h1.4v1.4h-1.4zM411.1,249.5h1.4v1.4h-1.4zM344.4,324.6h1.4v1.4h-1.4zM439.6,216.0h1.4v1.4h-1.4zM463.5,252.3h1.4v1.4h-1.4zM423.6,258.4h1.4v1.4h-1.4zM437.4,307.0h1.4v1.4h-1.4zM416.1,308.8h1.4v1.4h-1.4zM448.7,221.9h1.4v1.4h-1.4zM452.6,218.0h1.4v1.4h-1.4zM453.9,229.2h1.4v1.4h-1.4zM440.6,203.9h1.4v1.4h-1.4zM442.9,203.3h1.4v1.4h-1.4zM443.7,218.4h1.4v1.4h-1.4zM444.7,206.0h1.4v1.4h-1.4zM442.1,213.4h1.4v1.4h-1.4zM440.4,200.7h1.4v1.4h-1.4zM445.7,217.2h1.4v1.4h-1.4zM454.4,228.7h1.4v1.4h-1.4zM443.4,202.1h1.4v1.4h-1.4zM437.2,196.0h1.4v1.4h-1.4zM436.9,194.1h1.4v1.4h-1.4zM454.5,226.1h1.4v1.4h-1.4zM446.8,218.5h1.4v1.4h-1.4zM443.8,210.0h1.4v1.4h-1.4zM441.0,211.9h1.4v1.4h-1.4zM437.9,197.9h1.4v1.4h-1.4zM441.7,208.8h1.4v1.4h-1.4zM441.0,207.6h1.4v1.4h-1.4zM446.2,217.4h1.4v1.4h-1.4zM434.1,196.7h1.4v1.4h-1.4zM446.8,208.1h1.4v1.4h-1.4zM452.7,220.8h1.4v1.4h-1.4zM435.3,194.1h1.4v1.4h-1.4zM441.4,201.0h1.4v1.4h-1.4zM444.8,204.6h1.4v1.4h-1.4zM441.5,213.2h1.4v1.4h-1.4zM444.3,213.1h1.4v1.4h-1.4zM446.5,240.4h1.4v1.4h-1.4zM442.0,240.0h1.4v1.4h-1.4zM442.3,222.2h1.4v1.4h-1.4zM435.6,230.8h1.4v1.4h-1.4zM440.2,235.1h1.4v1.4h-1.4zM435.3,224.0h1.4v1.4h-1.4zM445.8,229.4h1.4v1.4h-1.4zM452.7,225.5h1.4v1.4h-1.4zM437.1,245.6h1.4v1.4h-1.4zM441.6,226.0h1.4v1.4h-1.4zM439.5,238.5h1.4v1.4h-1.4zM439.2,231.4h1.4v1.4h-1.4zM445.6,225.7h1.4v1.4h-1.4zM431.0,233.0h1.4v1.4h-1.4zM440.8,235.3h1.4v1.4h-1.4zM436.9,229.1h1.4v1.4h-1.4zM439.7,233.3h1.4v1.4h-1.4zM446.1,233.1h1.4v1.4h-1.4zM436.8,226.5h1.4v1.4h-1.4zM437.1,233.7h1.4v1.4h-1.4zM519.4,249.9h1.4v1.4h-1.4zM532.2,247.3h1.4v1.4h-1.4zM523.3,246.5h1.4v1.4h-1.4zM529.6,249.3h1.4v1.4h-1.4zM533.5,245.0h1.4v1.4h-1.4zM531.0,246.2h1.4v1.4h-1.4zM525.7,246.5h1.4v1.4h-1.4zM527.0,250.8h1.4v1.4h-1.4zM524.4,244.2h1.4v1.4h-1.4zM525.0,248.1h1.4v1.4h-1.4zM532.7,247.1h1.4v1.4h-1.4zM530.3,246.2h1.4v1.4h-1.4zM529.1,250.2h1.4v1.4h-1.4zM527.1,247.3h1.4v1.4h-1.4zM524.7,248.9h1.4v1.4h-1.4zM528.0,243.9h1.4v1.4h-1.4zM527.9,245.8h1.4v1.4h-1.4zM524.3,254.4h1.4v1.4h-1.4zM526.1,252.3h1.4v1.4h-1.4zM524.4,261.0h1.4v1.4h-1.4zM524.5,257.3h1.4v1.4h-1.4zM518.0,260.0h1.4v1.4h-1.4zM530.3,250.7h1.4v1.4h-1.4zM524.3,251.7h1.4v1.4h-1.4zM525.3,256.8h1.4v1.4h-1.4zM519.8,260.8h1.4v1.4h-1.4zM530.3,251.1h1.4v1.4h-1.4zM518.9,258.8h1.4v1.4h-1.4zM527.8,253.6h1.4v1.4h-1.4zM532.6,245.8h1.4v1.4h-1.4zM520.0,257.0h1.4v1.4h-1.4zM519.1,257.7h1.4v1.4h-1.4zM515.8,264.8h1.4v1.4h-1.4zM519.7,258.4h1.4v1.4h-1.4zM529.8,248.5h1.4v1.4h-1.4zM517.1,255.3h1.4v1.4h-1.4zM520.1,256.7h1.4v1.4h-1.4zM529.5,249.4h1.4v1.4h-1.4zM529.3,244.3h1.4v1.4h-1.4zM514.7,266.8h1.4v1.4h-1.4zM529.6,255.3h1.4v1.4h-1.4zM527.3,248.5h1.4v1.4h-1.4zM525.8,251.3h1.4v1.4h-1.4zM530.6,247.5h1.4v1.4h-1.4zM526.6,257.0h1.4v1.4h-1.4zM524.6,254.9h1.4v1.4h-1.4zM515.8,260.1h1.4v1.4h-1.4zM516.5,266.3h1.4v1.4h-1.4zM519.1,263.9h1.4v1.4h-1.4zM525.6,257.2h1.4v1.4h-1.4zM525.5,255.5h1.4v1.4h-1.4zM524.6,246.7h1.4v1.4h-1.4zM529.5,250.9h1.4v1.4h-1.4zM524.9,247.8h1.4v1.4h-1.4zM532.6,244.3h1.4v1.4h-1.4zM524.0,252.5h1.4v1.4h-1.4zM457.3,226.0h1.4v1.4h-1.4zM468.3,257.1h1.4v1.4h-1.4zM443.3,249.3h1.4v1.4h-1.4zM468.7,240.6h1.4v1.4h-1.4zM444.8,229.2h1.4v1.4h-1.4zM449.8,236.6h1.4v1.4h-1.4zM443.3,218.1h1.4v1.4h-1.4zM454.6,230.6h1.4v1.4h-1.4zM465.9,231.8h1.4v1.4h-1.4zM465.1,253.4h1.4v1.4h-1.4zM441.1,236.4h1.4v1.4h-1.4zM475.1,244.8h1.4v1.4h-1.4zM470.5,241.1h1.4v1.4h-1.4zM459.4,235.7h1.4v1.4h-1.4zM446.5,250.7h1.4v1.4h-1.4zM448.3,241.6h1.4v1.4h-1.4zM444.2,244.6h1.4v1.4h-1.4zM469.9,245.3h1.4v1.4h-1.4zM455.3,233.4h1.4v1.4h-1.4zM441.4,253.3h1.4v1.4h-1.4zM468.0,239.7h1.4v1.4h-1.4zM459.1,244.6h1.4v1.4h-1.4zM474.8,255.2h1.4v1.4h-1.4zM459.8,231.7h1.4v1.4h-1.4zM437.2,232.9h1.4v1.4h-1.4zM480.6,251.1h1.4v1.4h-1.4zM465.4,236.4h1.4v1.4h-1.4zM437.8,250.7h1.4v1.4h-1.4zM456.9,250.8h1.4v1.4h-1.4zM448.9,246.6h1.4v1.4h-1.4zM457.0,246.4h1.4v1.4h-1.4zM453.7,233.6h1.4v1.4h-1.4zM470.2,241.7h1.4v1.4h-1.4zM443.5,238.2h1.4v1.4h-1.4zM456.1,232.8h1.4v1.4h-1.4zM440.9,246.3h1.4v1.4h-1.4zM456.6,260.4h1.4v1.4h-1.4zM466.1,236.8h1.4v1.4h-1.4zM449.7,242.1h1.4v1.4h-1.4zM458.0,236.1h1.4v1.4h-1.4zM457.4,235.5h1.4v1.4h-1.4zM470.3,232.7h1.4v1.4h-1.4zM453.5,235.3h1.4v1.4h-1.4zM468.7,246.0h1.4v1.4h-1.4zM476.0,244.5h1.4v1.4h-1.4zM461.8,237.8h1.4v1.4h-1.4zM459.5,241.2h1.4v1.4h-1.4zM457.1,232.8h1.4v1.4h-1.4zM450.0,252.1h1.4v1.4h-1.4zM456.7,230.1h1.4v1.4h-1.4zM446.6,237.0h1.4v1.4h-1.4zM447.6,231.8h1.4v1.4h-1.4zM449.5,242.5h1.4v1.4h-1.4zM452.6,245.4h1.4v1.4h-1.4zM468.8,244.2h1.4v1.4h-1.4zM470.8,289.6h1.4v1.4h-1.4zM479.2,291.0h1.4v1.4h-1.4zM469.6,291.7h1.4v1.4h-1.4zM472.3,295.3h1.4v1.4h-1.4zM472.2,286.5h1.4v1.4h-1.4zM469.5,287.8h1.4v1.4h-1.4zM469.9,291.0h1.4v1.4h-1.4zM470.9,292.7h1.4v1.4h-1.4zM469.5,291.8h1.4v1.4h-1.4zM467.3,291.0h1.4v1.4h-1.4zM474.7,288.1h1.4v1.4h-1.4zM476.2,289.1h1.4v1.4h-1.4zM479.4,288.5h1.4v1.4h-1.4zM470.9,289.2h1.4v1.4h-1.4zM477.3,293.3h1.4v1.4h-1.4zM474.8,285.8h1.4v1.4h-1.4zM470.0,286.9h1.4v1.4h-1.4zM470.4,291.6h1.4v1.4h-1.4zM466.3,290.6h1.4v1.4h-1.4zM480.5,286.8h1.4v1.4h-1.4zM473.7,288.8h1.4v1.4h-1.4zM475.7,296.0h1.4v1.4h-1.4zM452.1,291.9h1.4v1.4h-1.4zM456.1,303.6h1.4v1.4h-1.4zM426.3,287.4h1.4v1.4h-1.4zM475.5,297.9h1.4v1.4h-1.4zM451.9,298.1h1.4v1.4h-1.4zM480.7,302.8h1.4v1.4h-1.4zM481.8,296.8h1.4v1.4h-1.4zM470.4,290.0h1.4v1.4h-1.4zM460.7,293.5h1.4v1.4h-1.4zM438.5,293.6h1.4v1.4h-1.4zM463.9,292.5h1.4v1.4h-1.4zM451.1,295.4h1.4v1.4h-1.4zM457.4,300.2h1.4v1.4h-1.4zM466.1,295.3h1.4v1.4h-1.4zM470.3,304.0h1.4v1.4h-1.4zM468.7,298.4h1.4v1.4h-1.4zM469.5,292.0h1.4v1.4h-1.4zM485.1,297.7h1.4v1.4h-1.4zM482.8,303.2h1.4v1.4h-1.4zM464.3,305.0h1.4v1.4h-1.4zM465.5,287.4h1.4v1.4h-1.4zM471.1,297.4h1.4v1.4h-1.4zM470.5,294.1h1.4v1.4h-1.4zM468.6,297.6h1.4v1.4h-1.4zM475.0,302.5h1.4v1.4h-1.4zM431.9,306.5h1.4v1.4h-1.4zM422.1,317.0h1.4v1.4h-1.4zM427.6,314.9h1.4v1.4h-1.4zM416.3,294.1h1.4v1.4h-1.4zM433.6,310.6h1.4v1.4h-1.4zM414.5,311.0h1.4v1.4h-1.4zM423.2,315.4h1.4v1.4h-1.4zM427.3,313.4h1.4v1.4h-1.4zM430.9,306.8h1.4v1.4h-1.4zM419.7,318.3h1.4v1.4h-1.4zM425.2,304.1h1.4v1.4h-1.4zM426.7,310.7h1.4v1.4h-1.4zM419.7,316.3h1.4v1.4h-1.4zM424.2,289.3h1.4v1.4h-1.4zM423.1,297.9h1.4v1.4h-1.4zM416.2,310.3h1.4v1.4h-1.4zM423.4,305.8h1.4v1.4h-1.4zM419.1,304.8h1.4v1.4h-1.4zM423.8,305.4h1.4v1.4h-1.4zM444.0,314.3h1.4v1.4h-1.4zM420.6,308.9h1.4v1.4h-1.4zM429.5,314.0h1.4v1.4h-1.4zM430.0,305.4h1.4v1.4h-1.4zM417.8,304.2h1.4v1.4h-1.4zM428.7,299.1h1.4v1.4h-1.4zM425.1,310.1h1.4v1.4h-1.4zM426.0,303.9h1.4v1.4h-1.4zM427.3,305.5h1.4v1.4h-1.4zM427.0,313.1h1.4v1.4h-1.4zM432.8,301.0h1.4v1.4h-1.4zM428.1,296.4h1.4v1.4h-1.4zM425.9,304.3h1.4v1.4h-1.4zM428.3,303.8h1.4v1.4h-1.4zM426.4,307.9h1.4v1.4h-1.4zM438.9,312.1h1.4v1.4h-1.4zM423.2,307.4h1.4v1.4h-1.4zM437.5,312.9h1.4v1.4h-1.4zM415.8,295.4h1.4v1.4h-1.4zM428.8,307.8h1.4v1.4h-1.4zM423.8,309.7h1.4v1.4h-1.4zM428.6,309.7h1.4v1.4h-1.4zM423.9,302.9h1.4v1.4h-1.4zM428.2,313.7h1.4v1.4h-1.4zM422.4,307.9h1.4v1.4h-1.4zM419.2,301.5h1.4v1.4h-1.4zM418.8,309.0h1.4v1.4h-1.4zM434.3,310.7h1.4v1.4h-1.4zM426.6,311.8h1.4v1.4h-1.4zM439.7,310.8h1.4v1.4h-1.4zM420.9,301.7h1.4v1.4h-1.4zM429.2,311.7h1.4v1.4h-1.4zM425.5,300.4h1.4v1.4h-1.4zM425.1,293.0h1.4v1.4h-1.4zM430.8,308.9h1.4v1.4h-1.4zM420.3,314.8h1.4v1.4h-1.4zM430.4,298.1h1.4v1.4h-1.4zM430.1,305.6h1.4v1.4h-1.4zM413.5,310.6h1.4v1.4h-1.4zM426.9,303.6h1.4v1.4h-1.4zM437.1,308.0h1.4v1.4h-1.4zM431.2,303.3h1.4v1.4h-1.4zM414.8,293.7h1.4v1.4h-1.4zM434.1,303.7h1.4v1.4h-1.4zM448.8,297.8h1.4v1.4h-1.4zM433.0,300.5h1.4v1.4h-1.4zM429.7,306.5h1.4v1.4h-1.4zM417.5,308.6h1.4v1.4h-1.4zM431.8,315.9h1.4v1.4h-1.4zM433.8,311.8h1.4v1.4h-1.4zM423.3,311.0h1.4v1.4h-1.4zM423.0,303.0h1.4v1.4h-1.4zM412.2,306.6h1.4v1.4h-1.4zM431.2,307.3h1.4v1.4h-1.4zM417.1,311.1h1.4v1.4h-1.4zM427.9,318.1h1.4v1.4h-1.4zM426.7,314.0h1.4v1.4h-1.4zM425.6,306.5h1.4v1.4h-1.4zM426.2,306.4h1.4v1.4h-1.4zM422.1,309.7h1.4v1.4h-1.4zM435.5,308.4h1.4v1.4h-1.4zM434.7,312.6h1.4v1.4h-1.4zM424.9,313.1h1.4v1.4h-1.4zM426.5,294.4h1.4v1.4h-1.4zM432.9,305.6h1.4v1.4h-1.4zM421.6,310.9h1.4v1.4h-1.4zM419.2,314.0h1.4v1.4h-1.4zM415.2,305.7h1.4v1.4h-1.4zM430.4,316.4h1.4v1.4h-1.4zM430.5,306.7h1.4v1.4h-1.4zM423.4,303.2h1.4v1.4h-1.4zM467.1,298.0h1.4v1.4h-1.4zM461.7,315.5h1.4v1.4h-1.4zM450.7,297.0h1.4v1.4h-1.4zM448.4,300.4h1.4v1.4h-1.4zM401.2,312.8h1.4v1.4h-1.4zM428.2,286.7h1.4v1.4h-1.4zM455.2,287.1h1.4v1.4h-1.4zM470.6,306.7h1.4v1.4h-1.4zM459.9,297.8h1.4v1.4h-1.4zM456.8,298.3h1.4v1.4h-1.4zM470.7,300.7h1.4v1.4h-1.4zM467.3,307.9h1.4v1.4h-1.4zM450.7,287.1h1.4v1.4h-1.4zM470.8,307.9h1.4v1.4h-1.4zM431.6,274.1h1.4v1.4h-1.4zM463.4,280.6h1.4v1.4h-1.4zM461.7,294.3h1.4v1.4h-1.4zM444.7,280.5h1.4v1.4h-1.4zM439.5,300.3h1.4v1.4h-1.4zM424.8,304.0h1.4v1.4h-1.4zM418.5,294.2h1.4v1.4h-1.4zM434.5,300.5h1.4v1.4h-1.4zM467.0,308.3h1.4v1.4h-1.4zM406.6,269.0h1.4v1.4h-1.4zM446.2,288.2h1.4v1.4h-1.4zM416.6,308.2h1.4v1.4h-1.4zM448.5,285.8h1.4v1.4h-1.4zM465.4,288.0h1.4v1.4h-1.4zM422.7,311.9h1.4v1.4h-1.4zM466.3,299.0h1.4v1.4h-1.4zM475.7,303.0h1.4v1.4h-1.4zM451.7,303.8h1.4v1.4h-1.4zM415.8,312.4h1.4v1.4h-1.4zM442.6,285.1h1.4v1.4h-1.4zM438.5,312.2h1.4v1.4h-1.4zM454.3,291.4h1.4v1.4h-1.4zM492.2,292.5h1.4v1.4h-1.4zM430.4,302.2h1.4v1.4h-1.4zM441.9,294.6h1.4v1.4h-1.4zM434.0,292.7h1.4v1.4h-1.4zM413.5,310.5h1.4v1.4h-1.4zM437.2,306.6h1.4v1.4h-1.4zM443.9,292.9h1.4v1.4h-1.4zM477.0,297.7h1.4v1.4h-1.4zM393.8,313.2h1.4v1.4h-1.4zM445.4,290.2h1.4v1.4h-1.4zM474.5,298.7h1.4v1.4h-1.4zM423.5,304.8h1.4v1.4h-1.4zM456.0,292.5h1.4v1.4h-1.4zM436.4,296.4h1.4v1.4h-1.4zM491.4,275.9h1.4v1.4h-1.4zM426.1,294.4h1.4v1.4h-1.4zM429.7,273.5h1.4v1.4h-1.4zM444.1,295.4h1.4v1.4h-1.4zM429.8,301.4h1.4v1.4h-1.4zM453.3,289.9h1.4v1.4h-1.4zM422.6,299.2h1.4v1.4h-1.4zM442.0,287.5h1.4v1.4h-1.4zM412.5,314.4h1.4v1.4h-1.4zM436.6,285.8h1.4v1.4h-1.4zM451.3,301.8h1.4v1.4h-1.4zM408.9,305.7h1.4v1.4h-1.4zM429.5,311.2h1.4v1.4h-1.4zM432.3,296.9h1.4v1.4h-1.4zM430.5,284.4h1.4v1.4h-1.4zM466.1,292.6h1.4v1.4h-1.4zM427.4,291.8h1.4v1.4h-1.4zM424.8,309.2h1.4v1.4h-1.4zM427.9,292.1h1.4v1.4h-1.4zM418.9,324.0h1.4v1.4h-1.4zM418.0,313.6h1.4v1.4h-1.4zM419.5,316.3h1.4v1.4h-1.4zM414.1,319.5h1.4v1.4h-1.4zM417.5,323.7h1.4v1.4h-1.4zM417.9,309.8h1.4v1.4h-1.4zM417.6,326.3h1.4v1.4h-1.4zM420.8,322.2h1.4v1.4h-1.4zM407.4,316.5h1.4v1.4h-1.4zM422.2,321.8h1.4v1.4h-1.4zM416.8,317.9h1.4v1.4h-1.4zM420.5,316.9h1.4v1.4h-1.4zM414.3,323.2h1.4v1.4h-1.4zM418.0,326.6h1.4v1.4h-1.4zM418.9,329.4h1.4v1.4h-1.4zM426.2,319.7h1.4v1.4h-1.4zM418.0,316.8h1.4v1.4h-1.4zM419.6,323.1h1.4v1.4h-1.4zM428.1,322.0h1.4v1.4h-1.4zM416.8,321.1h1.4v1.4h-1.4zM411.2,325.8h1.4v1.4h-1.4zM417.6,322.7h1.4v1.4h-1.4zM413.9,325.1h1.4v1.4h-1.4zM422.8,318.6h1.4v1.4h-1.4zM426.2,313.2h1.4v1.4h-1.4zM414.8,321.2h1.4v1.4h-1.4zM418.0,319.1h1.4v1.4h-1.4zM415.1,321.4h1.4v1.4h-1.4zM423.6,322.2h1.4v1.4h-1.4zM405.5,320.4h1.4v1.4h-1.4zM426.2,315.8h1.4v1.4h-1.4zM394.6,341.5h1.4v1.4h-1.4zM397.6,343.4h1.4v1.4h-1.4zM390.4,346.3h1.4v1.4h-1.4zM394.9,342.8h1.4v1.4h-1.4zM395.2,343.5h1.4v1.4h-1.4zM393.2,345.4h1.4v1.4h-1.4zM394.3,343.5h1.4v1.4h-1.4zM392.5,344.3h1.4v1.4h-1.4zM395.3,342.8h1.4v1.4h-1.4zM390.4,346.3h1.4v1.4h-1.4zM396.2,344.1h1.4v1.4h-1.4zM396.2,343.1h1.4v1.4h-1.4zM396.5,344.1h1.4v1.4h-1.4zM394.0,343.7h1.4v1.4h-1.4zM401.9,339.8h1.4v1.4h-1.4zM392.8,344.9h1.4v1.4h-1.4zM398.2,338.5h1.4v1.4h-1.4zM397.2,339.4h1.4v1.4h-1.4zM395.1,343.9h1.4v1.4h-1.4zM396.1,343.6h1.4v1.4h-1.4zM400.9,338.8h1.4v1.4h-1.4zM392.2,344.7h1.4v1.4h-1.4zM392.8,345.1h1.4v1.4h-1.4zM394.5,342.1h1.4v1.4h-1.4zM391.6,345.9h1.4v1.4h-1.4zM392.5,346.0h1.4v1.4h-1.4zM395.2,343.5h1.4v1.4h-1.4zM391.7,345.6h1.4v1.4h-1.4zM396.0,342.9h1.4v1.4h-1.4zM394.7,343.1h1.4v1.4h-1.4zM393.2,345.3h1.4v1.4h-1.4zM393.7,344.5h1.4v1.4h-1.4zM392.7,344.9h1.4v1.4h-1.4zM394.9,343.5h1.4v1.4h-1.4zM394.2,342.7h1.4v1.4h-1.4zM396.7,342.9h1.4v1.4h-1.4zM393.6,342.8h1.4v1.4h-1.4zM398.8,340.6h1.4v1.4h-1.4zM403.3,338.5h1.4v1.4h-1.4zM397.1,343.0h1.4v1.4h-1.4zM400.2,339.2h1.4v1.4h-1.4zM393.0,344.2h1.4v1.4h-1.4zM394.0,344.8h1.4v1.4h-1.4zM397.2,342.6h1.4v1.4h-1.4zM393.4,342.8h1.4v1.4h-1.4zM394.7,343.9h1.4v1.4h-1.4zM398.4,342.1h1.4v1.4h-1.4zM400.4,340.9h1.4v1.4h-1.4zM392.4,345.8h1.4v1.4h-1.4zM392.3,345.3h1.4v1.4h-1.4zM397.7,342.4h1.4v1.4h-1.4zM393.9,344.4h1.4v1.4h-1.4zM399.0,341.7h1.4v1.4h-1.4zM402.7,339.9h1.4v1.4h-1.4zM391.9,345.8h1.4v1.4h-1.4zM393.4,344.0h1.4v1.4h-1.4zM397.8,339.5h1.4v1.4h-1.4zM396.8,340.1h1.4v1.4h-1.4zM401.0,341.1h1.4v1.4h-1.4zM395.3,342.9h1.4v1.4h-1.4zM396.5,342.3h1.4v1.4h-1.4zM393.8,342.3h1.4v1.4h-1.4zM393.5,342.8h1.4v1.4h-1.4zM394.6,343.3h1.4v1.4h-1.4zM398.8,339.9h1.4v1.4h-1.4zM394.2,344.2h1.4v1.4h-1.4zM393.2,344.0h1.4v1.4h-1.4zM396.1,342.5h1.4v1.4h-1.4zM391.4,345.3h1.4v1.4h-1.4zM393.2,343.6h1.4v1.4h-1.4zM392.7,345.6h1.4v1.4h-1.4zM401.9,338.8h1.4v1.4h-1.4zM395.4,342.3h1.4v1.4h-1.4zM395.0,344.7h1.4v1.4h-1.4zM394.1,343.9h1.4v1.4h-1.4zM396.8,342.9h1.4v1.4h-1.4zM397.3,342.4h1.4v1.4h-1.4zM396.6,341.9h1.4v1.4h-1.4zM400.5,340.3h1.4v1.4h-1.4zM394.2,342.1h1.4v1.4h-1.4zM394.3,345.2h1.4v1.4h-1.4zM397.0,342.2h1.4v1.4h-1.4zM402.7,338.7h1.4v1.4h-1.4zM397.7,339.8h1.4v1.4h-1.4zM396.0,341.3h1.4v1.4h-1.4zM397.4,339.9h1.4v1.4h-1.4zM395.7,343.0h1.4v1.4h-1.4zM393.1,342.6h1.4v1.4h-1.4zM403.1,336.9h1.4v1.4h-1.4zM388.8,346.9h1.4v1.4h-1.4zM390.9,346.6h1.4v1.4h-1.4zM391.7,345.0h1.4v1.4h-1.4zM388.7,346.9h1.4v1.4h-1.4zM398.4,341.7h1.4v1.4h-1.4zM394.8,344.3h1.4v1.4h-1.4zM395.6,344.3h1.4v1.4h-1.4zM393.8,343.6h1.4v1.4h-1.4zM397.5,340.7h1.4v1.4h-1.4zM393.0,342.4h1.4v1.4h-1.4zM392.4,345.5h1.4v1.4h-1.4zM400.0,341.7h1.4v1.4h-1.4zM400.4,341.4h1.4v1.4h-1.4zM399.0,340.3h1.4v1.4h-1.4zM401.3,339.7h1.4v1.4h-1.4zM398.8,341.4h1.4v1.4h-1.4zM400.0,341.1h1.4v1.4h-1.4zM402.0,340.0h1.4v1.4h-1.4zM394.5,339.5h1.4v1.4h-1.4zM393.9,343.9h1.4v1.4h-1.4zM393.0,345.3h1.4v1.4h-1.4zM398.3,341.6h1.4v1.4h-1.4zM397.4,342.8h1.4v1.4h-1.4zM392.8,344.7h1.4v1.4h-1.4zM395.0,342.1h1.4v1.4h-1.4zM396.9,342.2h1.4v1.4h-1.4zM397.8,342.1h1.4v1.4h-1.4zM396.7,341.8h1.4v1.4h-1.4zM394.4,345.2h1.4v1.4h-1.4zM397.9,342.4h1.4v1.4h-1.4zM394.3,341.6h1.4v1.4h-1.4zM400.9,330.6h1.4v1.4h-1.4zM400.2,327.3h1.4v1.4h-1.4zM400.3,329.7h1.4v1.4h-1.4zM397.9,334.9h1.4v1.4h-1.4zM398.2,332.6h1.4v1.4h-1.4zM402.8,327.6h1.4v1.4h-1.4zM398.9,330.7h1.4v1.4h-1.4zM403.3,328.8h1.4v1.4h-1.4zM400.8,330.6h1.4v1.4h-1.4zM400.4,328.6h1.4v1.4h-1.4zM401.5,329.2h1.4v1.4h-1.4zM400.6,330.0h1.4v1.4h-1.4zM400.5,329.0h1.4v1.4h-1.4zM401.0,330.4h1.4v1.4h-1.4zM397.4,333.3h1.4v1.4h-1.4zM398.9,330.5h1.4v1.4h-1.4zM401.4,328.5h1.4v1.4h-1.4zM400.7,329.4h1.4v1.4h-1.4zM398.9,331.4h1.4v1.4h-1.4zM401.0,329.7h1.4v1.4h-1.4zM394.2,338.0h1.4v1.4h-1.4zM403.4,339.0h1.4v1.4h-1.4zM404.7,338.1h1.4v1.4h-1.4zM409.2,335.3h1.4v1.4h-1.4zM400.4,339.9h1.4v1.4h-1.4zM407.3,335.1h1.4v1.4h-1.4zM405.5,334.1h1.4v1.4h-1.4zM404.8,337.2h1.4v1.4h-1.4zM395.6,338.3h1.4v1.4h-1.4zM410.9,335.1h1.4v1.4h-1.4zM406.3,333.1h1.4v1.4h-1.4zM404.4,338.3h1.4v1.4h-1.4zM413.3,331.9h1.4v1.4h-1.4zM408.3,333.9h1.4v1.4h-1.4zM408.2,335.9h1.4v1.4h-1.4zM405.1,336.3h1.4v1.4h-1.4zM403.7,338.0h1.4v1.4h-1.4zM406.4,334.7h1.4v1.4h-1.4zM407.9,336.4h1.4v1.4h-1.4zM398.0,337.8h1.4v1.4h-1.4zM409.0,336.4h1.4v1.4h-1.4zM408.7,335.8h1.4v1.4h-1.4zM323.6,328.4h1.4v1.4h-1.4zM323.7,328.5h1.4v1.4h-1.4zM317.9,327.8h1.4v1.4h-1.4zM325.4,331.0h1.4v1.4h-1.4zM318.8,325.7h1.4v1.4h-1.4zM326.3,330.7h1.4v1.4h-1.4zM322.0,329.8h1.4v1.4h-1.4zM320.2,327.5h1.4v1.4h-1.4zM321.4,327.9h1.4v1.4h-1.4zM322.3,327.0h1.4v1.4h-1.4zM323.4,329.8h1.4v1.4h-1.4zM327.4,330.9h1.4v1.4h-1.4zM324.7,329.2h1.4v1.4h-1.4zM323.8,329.8h1.4v1.4h-1.4zM323.4,325.3h1.4v1.4h-1.4zM322.3,328.9h1.4v1.4h-1.4zM322.8,329.7h1.4v1.4h-1.4zM324.5,328.0h1.4v1.4h-1.4zM321.0,328.1h1.4v1.4h-1.4zM321.8,327.7h1.4v1.4h-1.4zM323.6,331.6h1.4v1.4h-1.4zM320.8,325.2h1.4v1.4h-1.4zM323.3,328.6h1.4v1.4h-1.4zM321.4,329.1h1.4v1.4h-1.4zM321.7,328.4h1.4v1.4h-1.4zM351.8,321.6h1.4v1.4h-1.4zM350.9,321.6h1.4v1.4h-1.4zM352.7,321.8h1.4v1.4h-1.4zM351.6,320.6h1.4v1.4h-1.4zM350.6,325.6h1.4v1.4h-1.4zM352.7,325.0h1.4v1.4h-1.4zM346.0,324.8h1.4v1.4h-1.4zM349.9,325.9h1.4v1.4h-1.4zM352.9,319.9h1.4v1.4h-1.4zM350.4,319.7h1.4v1.4h-1.4zM351.4,323.1h1.4v1.4h-1.4zM349.9,323.3h1.4v1.4h-1.4zM348.7,319.4h1.4v1.4h-1.4zM349.5,323.8h1.4v1.4h-1.4zM358.2,336.4h1.4v1.4h-1.4zM358.1,336.7h1.4v1.4h-1.4zM355.9,337.7h1.4v1.4h-1.4zM358.6,334.3h1.4v1.4h-1.4zM356.9,336.9h1.4v1.4h-1.4zM361.8,337.3h1.4v1.4h-1.4zM357.1,336.1h1.4v1.4h-1.4zM360.0,337.7h1.4v1.4h-1.4zM359.6,336.8h1.4v1.4h-1.4zM360.5,337.2h1.4v1.4h-1.4zM361.0,338.3h1.4v1.4h-1.4zM356.0,335.1h1.4v1.4h-1.4zM357.8,336.4h1.4v1.4h-1.4zM358.2,338.9h1.4v1.4h-1.4zM365.1,322.8h1.4v1.4h-1.4zM375.5,321.1h1.4v1.4h-1.4zM382.3,324.0h1.4v1.4h-1.4zM371.1,321.9h1.4v1.4h-1.4zM389.8,318.5h1.4v1.4h-1.4zM361.2,332.6h1.4v1.4h-1.4zM380.4,323.1h1.4v1.4h-1.4zM380.1,320.6h1.4v1.4h-1.4zM378.9,321.5h1.4v1.4h-1.4zM371.1,322.3h1.4v1.4h-1.4zM360.2,321.5h1.4v1.4h-1.4zM376.6,318.3h1.4v1.4h-1.4zM371.0,321.6h1.4v1.4h-1.4zM377.2,318.2h1.4v1.4h-1.4zM385.9,313.6h1.4v1.4h-1.4zM383.7,316.7h1.4v1.4h-1.4zM389.2,315.6h1.4v1.4h-1.4zM379.2,326.9h1.4v1.4h-1.4zM376.7,323.6h1.4v1.4h-1.4zM390.8,318.0h1.4v1.4h-1.4zM378.6,322.9h1.4v1.4h-1.4zM377.9,318.9h1.4v1.4h-1.4zM376.9,318.2h1.4v1.4h-1.4zM365.9,333.1h1.4v1.4h-1.4zM384.0,311.9h1.4v1.4h-1.4zM390.3,316.1h1.4v1.4h-1.4zM389.1,314.8h1.4v1.4h-1.4zM370.0,322.3h1.4v1.4h-1.4zM370.2,327.9h1.4v1.4h-1.4zM380.0,326.6h1.4v1.4h-1.4zM309.9,365.9h1.4v1.4h-1.4zM309.1,369.7h1.4v1.4h-1.4zM308.0,371.6h1.4v1.4h-1.4zM309.3,366.6h1.4v1.4h-1.4zM305.7,370.7h1.4v1.4h-1.4zM309.4,370.1h1.4v1.4h-1.4zM310.2,367.8h1.4v1.4h-1.4zM307.7,370.4h1.4v1.4h-1.4z" fill="#ee1020"/>
<text x="309.2" y="191" class="plb">(d)</text>
<text x="518.6" y="184.2" text-anchor="middle" class="n">N</text>
<path d="M518.7,187.6L511.1,210.9L518.7,202.7Z" fill="#000"/>
<path d="M518.7,187.6L525.0,210.9L518.7,202.7Z" fill="#fff" stroke="#000" stroke-width="0.6"/>
<text x="499.7" y="354.9" text-anchor="middle" class="yr">2021</text>
<circle cx="479.4" cy="367.1" r="1.5" fill="#e81010"/>
<text x="487.5" y="370.4" class="fs">Fire spots</text>
<rect x="467.0" y="385.2" width="58.7" height="2.6" fill="#fff" stroke="#000" stroke-width="0.4"/>
<rect x="467.00" y="385.2" width="3.67" height="2.6" fill="#000"/>
<rect x="474.34" y="385.2" width="3.67" height="2.6" fill="#000"/>
<rect x="481.68" y="385.2" width="14.68" height="2.6" fill="#000"/>
<rect x="511.02" y="385.2" width="14.68" height="2.6" fill="#000"/>
<text x="467.0" y="382.6" text-anchor="middle" class="sb">0</text>
<text x="474.6" y="382.6" text-anchor="middle" class="sb">75</text>
<text x="481.5" y="382.6" text-anchor="middle" class="sb">150</text>
<text x="496.4" y="382.6" text-anchor="middle" class="sb">300</text>
<text x="511.0" y="382.6" text-anchor="middle" class="sb">450</text>
<text x="525.7" y="382.6" text-anchor="middle" class="sb">600</text>
<text x="526.7" y="388" class="sb">KM</text>
</g>
</svg>
</body></html>
